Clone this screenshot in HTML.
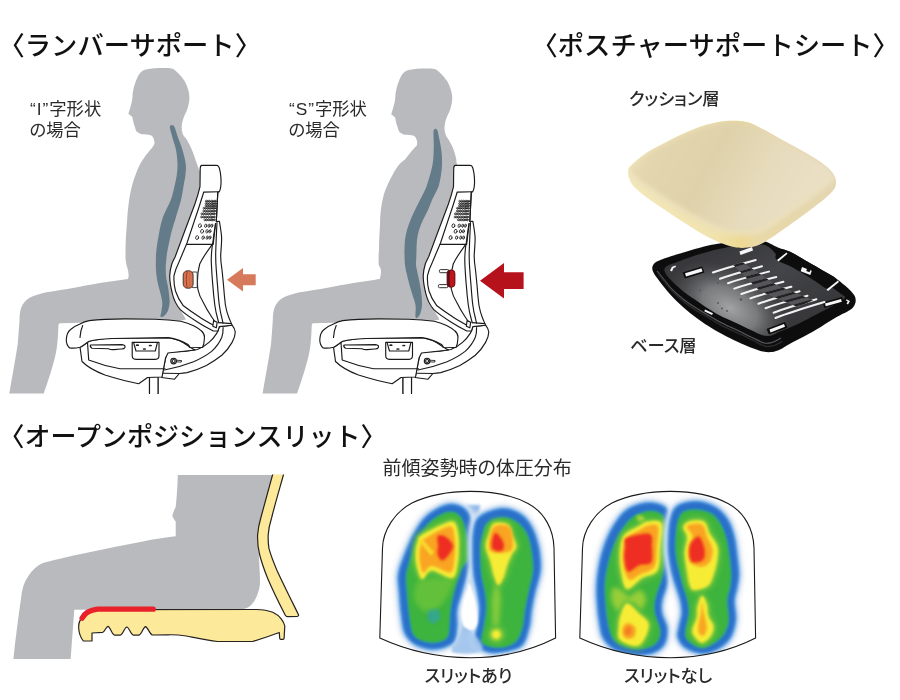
<!DOCTYPE html>
<html lang="ja">
<head>
<meta charset="utf-8">
<title>ランバーサポート</title>
<style>
html,body{margin:0;padding:0;background:#fff;}
body{width:900px;height:700px;overflow:hidden;position:relative;font-family:"Liberation Sans","Noto Sans CJK JP",sans-serif;color:#231f20;}
svg{position:absolute;left:0;top:0;display:block;}
.t{position:absolute;white-space:nowrap;line-height:1;filter:grayscale(1);}
.h{font-size:26.3px;color:#111;font-weight:500;}
.s{font-size:17.3px;color:#2a2a2a;font-weight:500;font-feature-settings:"palt" 1;}
</style>
</head>
<body>
<svg width="900" height="700" viewBox="0 0 900 700">


<!-- ===== FIGURE 1 ===== -->
<g id="fig1">
<path fill="#b9babe" d="M158.6,68.0 C156.4,68.3 148.9,68.6 145.7,69.6 C142.5,70.6 141.1,71.8 139.3,74.1 C137.6,76.3 136.3,80.1 135.2,83.1 C134.1,86.1 133.4,89.3 132.9,92.1 C132.4,94.9 132.6,97.2 132.2,99.8 C131.8,102.4 130.9,105.3 130.3,107.6 C129.7,109.9 128.7,112.8 128.4,113.8 L132.2,116.8 C132.4,117.6 132.9,120.0 133.3,121.7 C133.7,123.4 134.2,125.2 134.8,126.8 C135.4,128.4 135.5,130.3 136.7,131.6 C137.9,132.8 139.6,133.7 141.9,134.3 C144.2,134.9 148.8,134.3 150.8,135.2 C152.8,136.1 153.5,138.1 154.0,139.7 C154.5,141.3 154.8,142.9 154.0,144.8 C153.2,146.8 149.8,150.3 149.0,151.4 C146.5,154.5 144,157.5 142.3,160.6 C140,164.5 138,168 136.6,172 C134.8,176.5 133.2,181 132,185.7 C130.5,191.5 129.3,198 128.6,204 C127.8,210 127.3,216 127,222.3 C126.5,228 126,234.5 125.8,240.6 C125.5,247 125.4,253 125.6,258.9 C125.9,262.5 126.6,265.5 127.4,268 C128.3,271 128.8,274 128.6,277 L127.8,279 C119,280.3 109,281.6 100,283 C91,284.5 83,286.2 74.3,287.7 C65,289.3 56,290.6 46.5,292.3 C42,293.3 37.5,294.6 33.5,296 C29.5,297.5 26.3,299.8 24.2,302.5 C21.8,305.5 20.5,309 20,312.8 C19.6,315.3 19.5,317.8 19.5,320.2 C19,328 18.4,336 17.7,344.3 C16.3,353.5 14.6,363 13,372.2 C11.7,379.5 10.4,386.5 9.3,393.6 L43.7,393.6 C46,387 48.2,380.5 50.2,374 C52.3,367.5 54.3,360.5 55.8,353.6 C57,347.5 57.7,341 58,335 L58.5,324.8 C58.7,324 59.2,323.5 60,323.3 L90,322.5 L176,321.5 L186,319.5 L181,311 L176.5,293 L174,276 L178,257 L187,233 L198,204 L203,187 L203,172.5 L201.0,172.5 C200.7,172.1 200.0,171.4 199.3,170.0 C198.6,168.6 198.2,167.3 197.0,164.0 C195.8,160.7 193.7,154.1 192.0,150.0 C190.3,145.9 188.3,142.3 186.8,139.7 C185.3,137.1 183.8,136.7 183.0,134.5 C182.2,132.3 181.6,129.6 181.7,126.8 C181.8,124.0 182.6,120.8 183.6,117.8 C184.6,114.8 186.5,112.0 187.5,108.8 C188.5,105.6 189.3,101.8 189.4,98.6 C189.5,95.4 188.9,92.6 188.1,89.6 C187.2,86.6 186.1,83.5 184.3,80.6 C182.5,77.7 179.3,74.2 177.2,72.2 C175.0,70.2 174.5,69.1 171.4,68.4 C168.3,67.7 160.7,68.1 158.6,68.0 Z"/>
<path fill="#647b89" d="M172.0,125.2 C172.8,125.2 173.4,124.8 174.4,126.8 C175.4,128.8 176.5,133.1 177.8,137.0 C179.2,140.9 181.2,145.5 182.5,150.0 C183.8,154.5 185.2,159.8 185.7,164.0 C186.2,168.2 185.8,171.4 185.4,175.0 C185.1,178.6 184.3,181.5 183.6,185.7 C182.9,189.9 182.3,194.8 181.0,200.0 C179.7,205.2 177.2,212.8 176.0,217.0 C174.8,221.2 174.3,222.2 173.5,225.0 C172.7,227.8 172.0,229.7 171.0,234.0 C170.0,238.3 168.2,246.7 167.4,251.0 C166.6,255.3 166.6,257.1 166.3,260.0 C166.0,262.9 165.7,265.8 165.7,268.6 C165.7,271.4 165.8,274.1 166.1,277.0 C166.4,279.9 167.3,282.9 167.8,285.7 C168.3,288.5 168.7,291.1 169.0,294.0 C169.3,296.9 169.8,300.1 169.6,303.0 C169.4,305.9 168.6,309.2 167.6,311.4 C166.6,313.6 164.7,315.3 163.5,316.2 C162.3,317.1 160.8,317.4 160.4,316.6 C160.1,315.8 161.1,313.7 161.4,311.4 C161.7,309.1 162.4,305.9 162.3,303.0 C162.2,300.1 161.2,296.9 160.6,294.0 C159.9,291.1 159.1,288.5 158.4,285.7 C157.8,282.9 157.1,279.9 156.7,277.0 C156.3,274.1 156.0,271.4 155.9,268.6 C155.8,265.8 155.8,262.9 155.9,260.0 C156.0,257.1 155.8,255.3 156.3,251.0 C156.8,246.7 157.8,239.7 158.9,234.0 C160.0,228.3 161.0,222.7 163.0,217.0 C165.0,211.3 168.9,205.2 170.8,200.0 C172.7,194.8 173.6,189.9 174.6,185.7 C175.6,181.5 176.3,178.6 176.8,175.0 C177.3,171.4 177.6,168.2 177.5,164.0 C177.4,159.8 176.9,154.5 176.0,150.0 C175.1,145.5 173.3,140.8 172.3,137.0 C171.3,133.2 169.9,129.0 169.8,127.0 C169.8,125.0 171.2,125.2 172.0,125.2 Z"/>
<g fill="#fff" stroke="#1a1a1a" stroke-width="1.15" stroke-linejoin="round" stroke-linecap="round">
<!-- gas column -->
<path d="M149.5,377 L149.5,393.5 M158,377 L158,393.5" fill="none"/>
<rect x="149.5" y="377" width="8.5" height="16.5" stroke="none"/>
<path d="M149.5,377 L149.5,393.5 M158,377 L158,393.5" fill="none"/>
<!-- lower support arm -->
<path d="M219.3,326.6 C218.5,330 217.8,331.8 216.7,333.4 C214.5,337 212,340 209,342.4 C205.5,345.5 201.5,348 197.4,349.5 C188,351.5 178,352 168.5,352 L166.5,354 L162.7,372.6 L161.6,377.5 L174.5,379.2 L179.4,373.5 C182,373.3 184.5,373 187.1,372.6 C194,371 200.5,368.5 206.4,365.6 C212,362.5 217,359 221.8,355.3 C226,351.5 229.5,347 232.1,342.4 C234,339 235.2,335.5 235.3,332.1 C235,329.5 233.8,327.3 232.1,325.2 Z"/>
<path d="M223.1,327.6 C223.2,331 222.8,334.5 221.8,337.3 C219.5,342.8 216,347.5 211.6,351.4 C206,355.8 200,359 193.6,361.7 C185,365 176.5,367.8 164.5,370" fill="none"/>
<path d="M163.3,373.2 L179.4,373.5" fill="none"/>
<!-- lower shell -->
<path d="M80,347.2 L82,361.5 C89,368.5 97,372 105,375 C116,378.5 127,381.5 138.7,383.7 L147.5,377.5 L162,377 L165.5,358 L168,353 L195,350 L190,347.3 C189.5,347.5 189,346.5 188,345.7 C182,341 175,338.6 168.6,337.6 L112.5,338.5 C104,338.8 95,339.6 89.2,341.2 C86,343 83,346 80,347.2 Z"/>
<path d="M87.5,342.5 L88.7,360 C99,364 110,367 120,368.7 L165,368.7" fill="none"/>
<!-- lever -->
<path d="M90.5,345 L122,344.6 Q125.6,345.2 125,347.2 Q124.3,349.2 121,349 L114,349.6 Q111,350 108.5,348.8 L92,348.2 Q89.5,346.5 90.5,345 Z"/>
<!-- switch box -->
<path d="M132.2,342.3 L159,342.3 L159,355.5 Q159,359.3 155.5,359.3 L135.8,359.3 Q132.2,359.3 132.2,355.5 Z"/>
<path d="M133.6,342.6 L136,351 L155.3,351 L157.4,342.6" fill="none"/>
<g fill="#1a1a1a" stroke="none"><ellipse cx="137.4" cy="345.2" rx="1.7" ry="0.85"/><ellipse cx="150.3" cy="345.5" rx="1.7" ry="0.85"/><ellipse cx="144.4" cy="349" rx="1.7" ry="0.85"/></g>
<!-- pivot -->
<path d="M176,361 L180.8,361.3" fill="none" stroke-width="2.4"/>
<path d="M176,361 L180.5,361.3" fill="none" stroke="#fff" stroke-width="0.8"/>
<circle cx="173.6" cy="361" r="2.8"/>
<circle cx="173.6" cy="361" r="1.5"/>
<!-- seat cushion -->
<path d="M66.3,339.5 C66.5,335 68,331.5 70.6,329.5 C73.5,327 76.5,325.3 80,324 C83,322.3 86,321.2 89.2,320.6 C100,319.3 112,318.9 125,318.9 L155,319.3 C164,319.6 172.5,320.2 180.7,321.2 C185.5,322.3 189.8,323.8 193.6,325.7 C196.5,327.2 199.2,328.8 201.3,330.8 C203.5,332.8 204.5,335 204.5,337.3 L203.8,343.7 L202.5,347.5 L190,347.3 C189.5,346.3 189,345.3 188,344.5 C182,341 175,338.6 168.6,337.6 L112.5,338.5 C104,338.8 95,339.6 89.2,341.2 C86,343 83,346 80,347.2 C76,348.3 72.5,348.3 69.7,348 C67.5,346 66.2,343 66.3,339.5 Z"/>
<path d="M82.7,325.6 C81,329.5 80.2,333.5 80,337.5" fill="none"/>
<!-- backrest outer shell + frame -->
<path d="M201.8,165.4 L216.3,165.3 Q218.8,165.5 219.5,168.7 C220.3,172 220.7,174.5 220.8,176.4 C221.1,180 221.1,183 220.9,185 C220.7,188 220.2,190.5 219,191.8 L217.8,192.3 L216.3,221.5 L219.4,221.3 C220.3,227 221.3,232 221.6,237.4 C221.8,243 221,249 220.7,255 C220.6,260 221.2,265 222,270 C222.6,275 223,280 223.5,285 C224,292 224.6,298.5 225.4,305 C226.3,310 227.5,314.5 229,318 C230,320.5 231,322.5 232.1,325.2 L219.3,326.6 L218,331 L213.3,331 C207,328 202,325 197.8,322.3 C191,318 185,314 180.3,309.7 C176,304.5 173.5,299 172.2,293 C170.7,287 169.7,281 169.7,275.7 C169.8,272 170.6,268 171.8,264 C172.8,261 174,259 175.2,256.7 L184,233 L194.9,204 C197,198 198.8,192 200,186.7 L200.2,168.7 Q200.3,165.6 201.8,165.4 Z"/>
<!-- top pad divider -->
<path d="M203.6,192.1 L219,191.8" fill="none"/>
<!-- inner front line -->
<path d="M203.6,192.5 C201,201 197.5,212 194,222 L187,243 L179,262 C177,266 175,271 174,275.7 C173.6,281 174.2,286 175.5,291 C177.2,296.5 180,301.5 183.4,305.8 C189.5,310.5 195.5,314.5 201.7,318.4 C206,321 210.5,323.7 215.3,326" fill="none"/>
<!-- perforated panel -->
<path d="M217.8,192.3 L216.3,221.5 M215.6,223.5 L213.2,244.3 L186.6,244.3" fill="none"/>
<!-- perforations -->
<g fill="#fff" stroke="#1a1a1a" stroke-width="0.7">
<ellipse cx="215.5" cy="201.2" rx="0.62" ry="1.0" transform="rotate(14 215.5 201.2)"/>
<ellipse cx="214.2" cy="201.2" rx="0.62" ry="1.0" transform="rotate(14 214.2 201.2)"/>
<ellipse cx="212.8" cy="201.2" rx="0.62" ry="1.0" transform="rotate(14 212.8 201.2)"/>
<ellipse cx="211.5" cy="201.2" rx="0.80" ry="1.0" transform="rotate(14 211.5 201.2)"/>
<ellipse cx="209.7" cy="201.2" rx="0.80" ry="1.0" transform="rotate(14 209.7 201.2)"/>
<ellipse cx="208.0" cy="201.2" rx="0.80" ry="1.0" transform="rotate(14 208.0 201.2)"/>
<ellipse cx="206.2" cy="201.2" rx="0.80" ry="1.0" transform="rotate(14 206.2 201.2)"/>
<ellipse cx="215.3" cy="203.6" rx="0.62" ry="1.0" transform="rotate(14 215.3 203.6)"/>
<ellipse cx="214.0" cy="203.6" rx="0.62" ry="1.0" transform="rotate(14 214.0 203.6)"/>
<ellipse cx="212.6" cy="203.6" rx="0.62" ry="1.0" transform="rotate(14 212.6 203.6)"/>
<ellipse cx="211.3" cy="203.6" rx="0.80" ry="1.0" transform="rotate(14 211.3 203.6)"/>
<ellipse cx="209.5" cy="203.6" rx="0.80" ry="1.0" transform="rotate(14 209.5 203.6)"/>
<ellipse cx="207.8" cy="203.6" rx="0.80" ry="1.0" transform="rotate(14 207.8 203.6)"/>
<ellipse cx="206.0" cy="203.6" rx="0.80" ry="1.0" transform="rotate(14 206.0 203.6)"/>
<ellipse cx="215.2" cy="205.9" rx="0.62" ry="1.0" transform="rotate(14 215.2 205.9)"/>
<ellipse cx="213.8" cy="205.9" rx="0.62" ry="1.0" transform="rotate(14 213.8 205.9)"/>
<ellipse cx="212.5" cy="205.9" rx="0.62" ry="1.0" transform="rotate(14 212.5 205.9)"/>
<ellipse cx="211.1" cy="205.9" rx="0.80" ry="1.0" transform="rotate(14 211.1 205.9)"/>
<ellipse cx="209.4" cy="205.9" rx="0.80" ry="1.0" transform="rotate(14 209.4 205.9)"/>
<ellipse cx="207.6" cy="205.9" rx="0.80" ry="1.0" transform="rotate(14 207.6 205.9)"/>
<ellipse cx="205.9" cy="205.9" rx="0.80" ry="1.0" transform="rotate(14 205.9 205.9)"/>
<ellipse cx="215.0" cy="208.2" rx="0.62" ry="1.0" transform="rotate(14 215.0 208.2)"/>
<ellipse cx="213.6" cy="208.2" rx="0.62" ry="1.0" transform="rotate(14 213.6 208.2)"/>
<ellipse cx="212.3" cy="208.2" rx="0.62" ry="1.0" transform="rotate(14 212.3 208.2)"/>
<ellipse cx="210.9" cy="208.2" rx="0.80" ry="1.0" transform="rotate(14 210.9 208.2)"/>
<ellipse cx="209.2" cy="208.2" rx="0.80" ry="1.0" transform="rotate(14 209.2 208.2)"/>
<ellipse cx="207.4" cy="208.2" rx="0.80" ry="1.0" transform="rotate(14 207.4 208.2)"/>
<ellipse cx="205.7" cy="208.2" rx="0.80" ry="1.0" transform="rotate(14 205.7 208.2)"/>
<ellipse cx="203.9" cy="208.2" rx="0.80" ry="1.0" transform="rotate(14 203.9 208.2)"/>
<ellipse cx="214.8" cy="211.0" rx="0.62" ry="1.0" transform="rotate(14 214.8 211.0)"/>
<ellipse cx="213.4" cy="211.0" rx="0.62" ry="1.0" transform="rotate(14 213.4 211.0)"/>
<ellipse cx="212.1" cy="211.0" rx="0.62" ry="1.0" transform="rotate(14 212.1 211.0)"/>
<ellipse cx="210.7" cy="211.0" rx="0.80" ry="1.0" transform="rotate(14 210.7 211.0)"/>
<ellipse cx="209.0" cy="211.0" rx="0.80" ry="1.0" transform="rotate(14 209.0 211.0)"/>
<ellipse cx="207.2" cy="211.0" rx="0.80" ry="1.0" transform="rotate(14 207.2 211.0)"/>
<ellipse cx="205.5" cy="211.0" rx="0.80" ry="1.0" transform="rotate(14 205.5 211.0)"/>
<ellipse cx="203.7" cy="211.0" rx="0.80" ry="1.0" transform="rotate(14 203.7 211.0)"/>
<ellipse cx="214.6" cy="213.8" rx="0.62" ry="1.0" transform="rotate(14 214.6 213.8)"/>
<ellipse cx="213.2" cy="213.8" rx="0.62" ry="1.0" transform="rotate(14 213.2 213.8)"/>
<ellipse cx="211.9" cy="213.8" rx="0.62" ry="1.0" transform="rotate(14 211.9 213.8)"/>
<ellipse cx="210.5" cy="213.8" rx="0.80" ry="1.0" transform="rotate(14 210.5 213.8)"/>
<ellipse cx="208.8" cy="213.8" rx="0.80" ry="1.0" transform="rotate(14 208.8 213.8)"/>
<ellipse cx="207.0" cy="213.8" rx="0.80" ry="1.0" transform="rotate(14 207.0 213.8)"/>
<ellipse cx="205.3" cy="213.8" rx="0.80" ry="1.0" transform="rotate(14 205.3 213.8)"/>
<ellipse cx="203.5" cy="213.8" rx="0.80" ry="1.0" transform="rotate(14 203.5 213.8)"/>
<ellipse cx="201.8" cy="213.8" rx="0.80" ry="1.0" transform="rotate(14 201.8 213.8)"/>
<ellipse cx="214.3" cy="217.0" rx="0.62" ry="1.0" transform="rotate(14 214.3 217.0)"/>
<ellipse cx="213.0" cy="217.0" rx="0.62" ry="1.0" transform="rotate(14 213.0 217.0)"/>
<ellipse cx="211.6" cy="217.0" rx="0.62" ry="1.0" transform="rotate(14 211.6 217.0)"/>
<ellipse cx="210.3" cy="217.0" rx="0.80" ry="1.0" transform="rotate(14 210.3 217.0)"/>
<ellipse cx="208.5" cy="217.0" rx="0.80" ry="1.0" transform="rotate(14 208.5 217.0)"/>
<ellipse cx="206.8" cy="217.0" rx="0.80" ry="1.0" transform="rotate(14 206.8 217.0)"/>
<ellipse cx="205.0" cy="217.0" rx="0.80" ry="1.0" transform="rotate(14 205.0 217.0)"/>
<ellipse cx="203.3" cy="217.0" rx="0.80" ry="1.0" transform="rotate(14 203.3 217.0)"/>
<ellipse cx="201.5" cy="217.0" rx="0.80" ry="1.0" transform="rotate(14 201.5 217.0)"/>
<ellipse cx="214.1" cy="219.8" rx="0.62" ry="1.0" transform="rotate(14 214.1 219.8)"/>
<ellipse cx="212.7" cy="219.8" rx="0.62" ry="1.0" transform="rotate(14 212.7 219.8)"/>
<ellipse cx="211.4" cy="219.8" rx="0.62" ry="1.0" transform="rotate(14 211.4 219.8)"/>
<ellipse cx="210.0" cy="219.8" rx="0.80" ry="1.0" transform="rotate(14 210.0 219.8)"/>
<ellipse cx="208.3" cy="219.8" rx="0.80" ry="1.0" transform="rotate(14 208.3 219.8)"/>
<ellipse cx="206.5" cy="219.8" rx="0.80" ry="1.0" transform="rotate(14 206.5 219.8)"/>
<ellipse cx="204.8" cy="219.8" rx="0.80" ry="1.0" transform="rotate(14 204.8 219.8)"/>
</g>
<g fill="#fff" stroke="#1a1a1a" stroke-width="0.8">
<ellipse cx="199.9" cy="225.7" rx="1.45" ry="1.90" transform="rotate(16 199.9 225.7)"/>
<ellipse cx="205.7" cy="225.7" rx="1.10" ry="1.75" transform="rotate(16 205.7 225.7)"/>
<ellipse cx="209.1" cy="225.7" rx="0.85" ry="1.75" transform="rotate(16 209.1 225.7)"/>
<ellipse cx="211.9" cy="225.7" rx="0.85" ry="1.75" transform="rotate(16 211.9 225.7)"/>
<ellipse cx="202.1" cy="231.3" rx="1.45" ry="1.90" transform="rotate(16 202.1 231.3)"/>
<ellipse cx="207.0" cy="231.3" rx="1.10" ry="1.75" transform="rotate(16 207.0 231.3)"/>
<ellipse cx="210.0" cy="231.3" rx="0.85" ry="1.75" transform="rotate(16 210.0 231.3)"/>
<ellipse cx="197.1" cy="237.6" rx="1.45" ry="1.90" transform="rotate(16 197.1 237.6)"/>
<ellipse cx="203.1" cy="237.6" rx="1.10" ry="1.75" transform="rotate(16 203.1 237.6)"/>
<ellipse cx="207.2" cy="237.6" rx="0.85" ry="1.75" transform="rotate(16 207.2 237.6)"/>
<ellipse cx="210.0" cy="237.6" rx="0.85" ry="1.75" transform="rotate(16 210.0 237.6)"/>
</g>
<!-- lumbar inner curve -->
<path d="M212.3,244.3 C207,251.5 202.5,258 199.7,264 C197.5,272 197,281 197.8,289 C198.8,294 201,299 203.6,303 C206,308 208.7,312.5 211.4,316.5 L215.3,322.3" fill="none"/>
<!-- outer shell lines -->
<path d="M215.6,223.5 C214.5,230 213.5,236 213,241.7 C212.4,245 211.9,248 211.7,251 C211.4,254.5 211.2,258 211.3,261.4 C211.4,264.5 211.5,267 211.7,270 C212,275 212.3,280 212.8,285 C213.3,292 214,299 214.8,305 C215.5,310 216.5,314.5 217.5,318 L218.7,322.6" fill="none"/>
<path d="M217,222.5 C216.5,232 216,243 215.7,253 C215.6,259 215.9,265 216.3,270 C216.7,275 217,280 217.5,285 C218,292 218.5,299 219.3,305 C220,310.5 221,315 222,318.5 L223,323.2" fill="none"/>
<path d="M218.7,322.6 L231.3,323.6" fill="none"/>
<path d="M213.6,320.6 L217.2,322.2 L216.3,327.8 L212.8,326.3 Z"/>

</g>
<path fill="#d77a5b" d="M227,279.7 L243,268 L243,274.2 L255.7,274.2 L255.7,285.2 L243,285.2 L243,291.6 Z"/>
<g stroke="#1a1a1a" stroke-width="0.8">
<rect x="191.8" y="272" width="5.4" height="15.6" rx="1" fill="#fff"/>
<rect x="183.2" y="270.8" width="9.9" height="17.4" rx="4.2" fill="#d9714f" stroke="#3a2620" stroke-width="0.9"/>
</g>
<path d="M187.2,271.4 C186,276.5 186,282.5 187.2,287.6" fill="none" stroke="#7a3a26" stroke-width="0.8"/>
<path d="M189.9,271 C189.2,276.5 189.2,282.5 189.9,288" fill="none" stroke="#c25f3f" stroke-width="0.6"/>
</g>

<!-- ===== FIGURE 2 ===== -->
<g id="fig2">
<path fill="#b9babe" d="M421.4,68.5 C419.2,68.8 411.7,69.1 408.5,70.1 C405.3,71.1 403.9,72.3 402.1,74.6 C400.4,76.8 399.1,80.6 398.0,83.6 C396.9,86.6 396.2,89.8 395.7,92.6 C395.2,95.4 395.4,97.7 395.0,100.3 C394.6,102.9 393.7,105.8 393.1,108.1 C392.5,110.4 391.5,113.3 391.2,114.3 L395.0,117.3 C395.2,118.1 395.7,120.5 396.1,122.2 C396.5,123.9 397.0,125.7 397.6,127.3 C398.2,128.9 398.3,130.8 399.5,132.1 C400.7,133.3 402.4,134.2 404.7,134.8 C407.1,135.4 411.6,134.8 413.6,135.7 C415.6,136.6 416.3,138.6 416.8,140.2 C417.3,141.8 417.4,143.8 416.8,145.3 C416.2,146.9 415.0,147.1 413.0,149.5 C411.0,151.9 406.3,157.8 405.0,159.5 C399.5,163 395.5,169 392.5,175 C388.5,182 385.5,189 383.7,195 C381,205 380,215 380,225 C379.5,234 379,242 379,250 C378.5,255 378.5,260 378.7,265 C380,267 381,269 381,271 C381,274 380.3,276.5 380,278.7 C372.3,280.3 362.3,281.6 353.3,283 C344.3,284.5 336.3,286.2 327.6,287.7 C318.3,289.3 309.3,290.6 299.8,292.3 C295.3,293.3 290.8,294.6 286.8,296 C282.8,297.5 279.6,299.8 277.5,302.5 C275.1,305.5 273.8,309 273.3,312.8 C272.9,315.3 272.8,317.8 272.8,320.2 C272.3,328 271.7,336 271,344.3 C269.6,353.5 267.9,363 266.3,372.2 C265,379.5 263.7,386.5 262.6,393.6 L297,393.6 C299.3,387 301.5,380.5 303.5,374 C305.6,367.5 307.6,360.5 309.1,353.6 C310.3,347.5 311,341 311.3,335 L311.8,324.8 C312,324 312.5,323.5 313.3,323.3 L343.3,322.5 L429.5,321.5 L439.5,319.5 L434.5,311 L430,293 L427.5,276 L431.5,257 L440.5,233 L451.5,204 L456.5,187 L456.5,166 L457.5,165.0 C457.4,164.7 456.9,164.2 456.6,163.0 C456.4,161.8 456.6,160.5 456.0,158.0 C455.4,155.5 454.2,151.1 453.0,148.0 C451.8,144.9 449.7,141.7 448.5,139.5 C447.3,137.3 446.5,137.0 445.8,135.0 C445.1,133.0 444.4,130.1 444.5,127.3 C444.6,124.5 445.4,121.3 446.4,118.3 C447.4,115.3 449.3,112.5 450.3,109.3 C451.3,106.1 452.1,102.3 452.2,99.1 C452.3,95.9 451.8,93.1 450.9,90.1 C450.0,87.1 448.9,84.0 447.1,81.1 C445.3,78.2 442.1,74.7 440.0,72.7 C437.9,70.7 437.3,69.6 434.2,68.9 C431.1,68.2 423.5,68.6 421.4,68.5 Z"/>
<path fill="#647b89" d="M435.4,128.7 C436.0,128.6 436.8,129.1 437.3,130.2 C437.8,131.2 438.0,132.5 438.5,135.0 C439.0,137.5 439.9,141.7 440.5,145.0 C441.1,148.3 441.6,151.7 441.8,155.0 C442.1,158.3 442.1,161.7 442.0,165.0 C441.9,168.3 441.5,171.7 441.0,175.0 C440.5,178.3 439.7,182.5 439.0,185.0 C438.3,187.5 438.2,187.5 437.0,190.0 C435.8,192.5 433.5,196.7 432.0,200.0 C430.5,203.3 429.5,206.7 428.0,210.0 C426.5,213.3 424.5,216.7 423.0,220.0 C421.5,223.3 420.0,226.7 419.0,230.0 C418.0,233.3 417.4,236.7 417.0,240.0 C416.6,243.3 416.6,246.7 416.5,250.0 C416.4,253.3 416.3,257.5 416.2,260.0 C416.1,262.5 415.7,262.5 416.0,265.0 C416.3,267.5 417.3,271.7 418.0,275.0 C418.7,278.3 419.4,281.7 420.0,285.0 C420.6,288.3 421.2,291.7 421.5,295.0 C421.8,298.3 422.2,302.0 422.0,305.0 C421.8,308.0 421.2,311.0 420.5,313.0 C419.8,315.0 418.8,316.4 418.0,317.2 C417.2,318.0 416.0,318.3 415.6,317.6 C415.2,316.9 415.5,315.1 415.5,313.0 C415.5,310.9 416.0,308.0 415.5,305.0 C415.0,302.0 413.5,298.3 412.5,295.0 C411.5,291.7 410.4,288.3 409.5,285.0 C408.6,281.7 407.8,278.3 407.0,275.0 C406.2,271.7 405.4,268.3 405.0,265.0 C404.6,261.7 404.6,257.5 404.5,255.0 C404.4,252.5 404.4,252.5 404.5,250.0 C404.6,247.5 404.6,243.3 405.0,240.0 C405.4,236.7 406.1,233.3 407.0,230.0 C407.9,226.7 409.2,223.3 410.5,220.0 C411.8,216.7 413.4,213.3 415.0,210.0 C416.6,206.7 418.3,203.3 420.0,200.0 C421.7,196.7 423.8,192.5 425.0,190.0 C426.2,187.5 426.2,187.5 427.0,185.0 C427.8,182.5 429.1,178.3 430.0,175.0 C430.9,171.7 431.9,168.3 432.5,165.0 C433.1,161.7 433.3,158.3 433.5,155.0 C433.7,151.7 433.8,148.3 433.8,145.0 C433.8,141.7 433.5,137.4 433.5,135.0 C433.5,132.6 433.3,131.6 433.6,130.5 C433.9,129.4 434.8,128.8 435.4,128.7 Z"/>
<g transform="translate(253.5,0)" fill="#fff" stroke="#1a1a1a" stroke-width="1.15" stroke-linejoin="round" stroke-linecap="round">
<!-- gas column -->
<path d="M149.5,377 L149.5,393.5 M158,377 L158,393.5" fill="none"/>
<rect x="149.5" y="377" width="8.5" height="16.5" stroke="none"/>
<path d="M149.5,377 L149.5,393.5 M158,377 L158,393.5" fill="none"/>
<!-- lower support arm -->
<path d="M219.3,326.6 C218.5,330 217.8,331.8 216.7,333.4 C214.5,337 212,340 209,342.4 C205.5,345.5 201.5,348 197.4,349.5 C188,351.5 178,352 168.5,352 L166.5,354 L162.7,372.6 L161.6,377.5 L174.5,379.2 L179.4,373.5 C182,373.3 184.5,373 187.1,372.6 C194,371 200.5,368.5 206.4,365.6 C212,362.5 217,359 221.8,355.3 C226,351.5 229.5,347 232.1,342.4 C234,339 235.2,335.5 235.3,332.1 C235,329.5 233.8,327.3 232.1,325.2 Z"/>
<path d="M223.1,327.6 C223.2,331 222.8,334.5 221.8,337.3 C219.5,342.8 216,347.5 211.6,351.4 C206,355.8 200,359 193.6,361.7 C185,365 176.5,367.8 164.5,370" fill="none"/>
<path d="M163.3,373.2 L179.4,373.5" fill="none"/>
<!-- lower shell -->
<path d="M80,347.2 L82,361.5 C89,368.5 97,372 105,375 C116,378.5 127,381.5 138.7,383.7 L147.5,377.5 L162,377 L165.5,358 L168,353 L195,350 L190,347.3 C189.5,347.5 189,346.5 188,345.7 C182,341 175,338.6 168.6,337.6 L112.5,338.5 C104,338.8 95,339.6 89.2,341.2 C86,343 83,346 80,347.2 Z"/>
<path d="M87.5,342.5 L88.7,360 C99,364 110,367 120,368.7 L165,368.7" fill="none"/>
<!-- lever -->
<path d="M90.5,345 L122,344.6 Q125.6,345.2 125,347.2 Q124.3,349.2 121,349 L114,349.6 Q111,350 108.5,348.8 L92,348.2 Q89.5,346.5 90.5,345 Z"/>
<!-- switch box -->
<path d="M132.2,342.3 L159,342.3 L159,355.5 Q159,359.3 155.5,359.3 L135.8,359.3 Q132.2,359.3 132.2,355.5 Z"/>
<path d="M133.6,342.6 L136,351 L155.3,351 L157.4,342.6" fill="none"/>
<g fill="#1a1a1a" stroke="none"><ellipse cx="137.4" cy="345.2" rx="1.7" ry="0.85"/><ellipse cx="150.3" cy="345.5" rx="1.7" ry="0.85"/><ellipse cx="144.4" cy="349" rx="1.7" ry="0.85"/></g>
<!-- pivot -->
<path d="M176,361 L180.8,361.3" fill="none" stroke-width="2.4"/>
<path d="M176,361 L180.5,361.3" fill="none" stroke="#fff" stroke-width="0.8"/>
<circle cx="173.6" cy="361" r="2.8"/>
<circle cx="173.6" cy="361" r="1.5"/>
<!-- seat cushion -->
<path d="M66.3,339.5 C66.5,335 68,331.5 70.6,329.5 C73.5,327 76.5,325.3 80,324 C83,322.3 86,321.2 89.2,320.6 C100,319.3 112,318.9 125,318.9 L155,319.3 C164,319.6 172.5,320.2 180.7,321.2 C185.5,322.3 189.8,323.8 193.6,325.7 C196.5,327.2 199.2,328.8 201.3,330.8 C203.5,332.8 204.5,335 204.5,337.3 L203.8,343.7 L202.5,347.5 L190,347.3 C189.5,346.3 189,345.3 188,344.5 C182,341 175,338.6 168.6,337.6 L112.5,338.5 C104,338.8 95,339.6 89.2,341.2 C86,343 83,346 80,347.2 C76,348.3 72.5,348.3 69.7,348 C67.5,346 66.2,343 66.3,339.5 Z"/>
<path d="M82.7,325.6 C81,329.5 80.2,333.5 80,337.5" fill="none"/>
<!-- backrest outer shell + frame -->
<path d="M201.8,165.4 L216.3,165.3 Q218.8,165.5 219.5,168.7 C220.3,172 220.7,174.5 220.8,176.4 C221.1,180 221.1,183 220.9,185 C220.7,188 220.2,190.5 219,191.8 L217.8,192.3 L216.3,221.5 L219.4,221.3 C220.3,227 221.3,232 221.6,237.4 C221.8,243 221,249 220.7,255 C220.6,260 221.2,265 222,270 C222.6,275 223,280 223.5,285 C224,292 224.6,298.5 225.4,305 C226.3,310 227.5,314.5 229,318 C230,320.5 231,322.5 232.1,325.2 L219.3,326.6 L218,331 L213.3,331 C207,328 202,325 197.8,322.3 C191,318 185,314 180.3,309.7 C176,304.5 173.5,299 172.2,293 C170.7,287 169.7,281 169.7,275.7 C169.8,272 170.6,268 171.8,264 C172.8,261 174,259 175.2,256.7 L184,233 L194.9,204 C197,198 198.8,192 200,186.7 L200.2,168.7 Q200.3,165.6 201.8,165.4 Z"/>
<!-- top pad divider -->
<path d="M203.6,192.1 L219,191.8" fill="none"/>
<!-- inner front line -->
<path d="M203.6,192.5 C201,201 197.5,212 194,222 L187,243 L179,262 C177,266 175,271 174,275.7 C173.6,281 174.2,286 175.5,291 C177.2,296.5 180,301.5 183.4,305.8 C189.5,310.5 195.5,314.5 201.7,318.4 C206,321 210.5,323.7 215.3,326" fill="none"/>
<!-- perforated panel -->
<path d="M217.8,192.3 L216.3,221.5 M215.6,223.5 L213.2,244.3 L186.6,244.3" fill="none"/>
<!-- perforations -->
<g fill="#fff" stroke="#1a1a1a" stroke-width="0.7">
<ellipse cx="215.5" cy="201.2" rx="0.62" ry="1.0" transform="rotate(14 215.5 201.2)"/>
<ellipse cx="214.2" cy="201.2" rx="0.62" ry="1.0" transform="rotate(14 214.2 201.2)"/>
<ellipse cx="212.8" cy="201.2" rx="0.62" ry="1.0" transform="rotate(14 212.8 201.2)"/>
<ellipse cx="211.5" cy="201.2" rx="0.80" ry="1.0" transform="rotate(14 211.5 201.2)"/>
<ellipse cx="209.7" cy="201.2" rx="0.80" ry="1.0" transform="rotate(14 209.7 201.2)"/>
<ellipse cx="208.0" cy="201.2" rx="0.80" ry="1.0" transform="rotate(14 208.0 201.2)"/>
<ellipse cx="206.2" cy="201.2" rx="0.80" ry="1.0" transform="rotate(14 206.2 201.2)"/>
<ellipse cx="215.3" cy="203.6" rx="0.62" ry="1.0" transform="rotate(14 215.3 203.6)"/>
<ellipse cx="214.0" cy="203.6" rx="0.62" ry="1.0" transform="rotate(14 214.0 203.6)"/>
<ellipse cx="212.6" cy="203.6" rx="0.62" ry="1.0" transform="rotate(14 212.6 203.6)"/>
<ellipse cx="211.3" cy="203.6" rx="0.80" ry="1.0" transform="rotate(14 211.3 203.6)"/>
<ellipse cx="209.5" cy="203.6" rx="0.80" ry="1.0" transform="rotate(14 209.5 203.6)"/>
<ellipse cx="207.8" cy="203.6" rx="0.80" ry="1.0" transform="rotate(14 207.8 203.6)"/>
<ellipse cx="206.0" cy="203.6" rx="0.80" ry="1.0" transform="rotate(14 206.0 203.6)"/>
<ellipse cx="215.2" cy="205.9" rx="0.62" ry="1.0" transform="rotate(14 215.2 205.9)"/>
<ellipse cx="213.8" cy="205.9" rx="0.62" ry="1.0" transform="rotate(14 213.8 205.9)"/>
<ellipse cx="212.5" cy="205.9" rx="0.62" ry="1.0" transform="rotate(14 212.5 205.9)"/>
<ellipse cx="211.1" cy="205.9" rx="0.80" ry="1.0" transform="rotate(14 211.1 205.9)"/>
<ellipse cx="209.4" cy="205.9" rx="0.80" ry="1.0" transform="rotate(14 209.4 205.9)"/>
<ellipse cx="207.6" cy="205.9" rx="0.80" ry="1.0" transform="rotate(14 207.6 205.9)"/>
<ellipse cx="205.9" cy="205.9" rx="0.80" ry="1.0" transform="rotate(14 205.9 205.9)"/>
<ellipse cx="215.0" cy="208.2" rx="0.62" ry="1.0" transform="rotate(14 215.0 208.2)"/>
<ellipse cx="213.6" cy="208.2" rx="0.62" ry="1.0" transform="rotate(14 213.6 208.2)"/>
<ellipse cx="212.3" cy="208.2" rx="0.62" ry="1.0" transform="rotate(14 212.3 208.2)"/>
<ellipse cx="210.9" cy="208.2" rx="0.80" ry="1.0" transform="rotate(14 210.9 208.2)"/>
<ellipse cx="209.2" cy="208.2" rx="0.80" ry="1.0" transform="rotate(14 209.2 208.2)"/>
<ellipse cx="207.4" cy="208.2" rx="0.80" ry="1.0" transform="rotate(14 207.4 208.2)"/>
<ellipse cx="205.7" cy="208.2" rx="0.80" ry="1.0" transform="rotate(14 205.7 208.2)"/>
<ellipse cx="203.9" cy="208.2" rx="0.80" ry="1.0" transform="rotate(14 203.9 208.2)"/>
<ellipse cx="214.8" cy="211.0" rx="0.62" ry="1.0" transform="rotate(14 214.8 211.0)"/>
<ellipse cx="213.4" cy="211.0" rx="0.62" ry="1.0" transform="rotate(14 213.4 211.0)"/>
<ellipse cx="212.1" cy="211.0" rx="0.62" ry="1.0" transform="rotate(14 212.1 211.0)"/>
<ellipse cx="210.7" cy="211.0" rx="0.80" ry="1.0" transform="rotate(14 210.7 211.0)"/>
<ellipse cx="209.0" cy="211.0" rx="0.80" ry="1.0" transform="rotate(14 209.0 211.0)"/>
<ellipse cx="207.2" cy="211.0" rx="0.80" ry="1.0" transform="rotate(14 207.2 211.0)"/>
<ellipse cx="205.5" cy="211.0" rx="0.80" ry="1.0" transform="rotate(14 205.5 211.0)"/>
<ellipse cx="203.7" cy="211.0" rx="0.80" ry="1.0" transform="rotate(14 203.7 211.0)"/>
<ellipse cx="214.6" cy="213.8" rx="0.62" ry="1.0" transform="rotate(14 214.6 213.8)"/>
<ellipse cx="213.2" cy="213.8" rx="0.62" ry="1.0" transform="rotate(14 213.2 213.8)"/>
<ellipse cx="211.9" cy="213.8" rx="0.62" ry="1.0" transform="rotate(14 211.9 213.8)"/>
<ellipse cx="210.5" cy="213.8" rx="0.80" ry="1.0" transform="rotate(14 210.5 213.8)"/>
<ellipse cx="208.8" cy="213.8" rx="0.80" ry="1.0" transform="rotate(14 208.8 213.8)"/>
<ellipse cx="207.0" cy="213.8" rx="0.80" ry="1.0" transform="rotate(14 207.0 213.8)"/>
<ellipse cx="205.3" cy="213.8" rx="0.80" ry="1.0" transform="rotate(14 205.3 213.8)"/>
<ellipse cx="203.5" cy="213.8" rx="0.80" ry="1.0" transform="rotate(14 203.5 213.8)"/>
<ellipse cx="201.8" cy="213.8" rx="0.80" ry="1.0" transform="rotate(14 201.8 213.8)"/>
<ellipse cx="214.3" cy="217.0" rx="0.62" ry="1.0" transform="rotate(14 214.3 217.0)"/>
<ellipse cx="213.0" cy="217.0" rx="0.62" ry="1.0" transform="rotate(14 213.0 217.0)"/>
<ellipse cx="211.6" cy="217.0" rx="0.62" ry="1.0" transform="rotate(14 211.6 217.0)"/>
<ellipse cx="210.3" cy="217.0" rx="0.80" ry="1.0" transform="rotate(14 210.3 217.0)"/>
<ellipse cx="208.5" cy="217.0" rx="0.80" ry="1.0" transform="rotate(14 208.5 217.0)"/>
<ellipse cx="206.8" cy="217.0" rx="0.80" ry="1.0" transform="rotate(14 206.8 217.0)"/>
<ellipse cx="205.0" cy="217.0" rx="0.80" ry="1.0" transform="rotate(14 205.0 217.0)"/>
<ellipse cx="203.3" cy="217.0" rx="0.80" ry="1.0" transform="rotate(14 203.3 217.0)"/>
<ellipse cx="201.5" cy="217.0" rx="0.80" ry="1.0" transform="rotate(14 201.5 217.0)"/>
<ellipse cx="214.1" cy="219.8" rx="0.62" ry="1.0" transform="rotate(14 214.1 219.8)"/>
<ellipse cx="212.7" cy="219.8" rx="0.62" ry="1.0" transform="rotate(14 212.7 219.8)"/>
<ellipse cx="211.4" cy="219.8" rx="0.62" ry="1.0" transform="rotate(14 211.4 219.8)"/>
<ellipse cx="210.0" cy="219.8" rx="0.80" ry="1.0" transform="rotate(14 210.0 219.8)"/>
<ellipse cx="208.3" cy="219.8" rx="0.80" ry="1.0" transform="rotate(14 208.3 219.8)"/>
<ellipse cx="206.5" cy="219.8" rx="0.80" ry="1.0" transform="rotate(14 206.5 219.8)"/>
<ellipse cx="204.8" cy="219.8" rx="0.80" ry="1.0" transform="rotate(14 204.8 219.8)"/>
</g>
<g fill="#fff" stroke="#1a1a1a" stroke-width="0.8">
<ellipse cx="199.9" cy="225.7" rx="1.45" ry="1.90" transform="rotate(16 199.9 225.7)"/>
<ellipse cx="205.7" cy="225.7" rx="1.10" ry="1.75" transform="rotate(16 205.7 225.7)"/>
<ellipse cx="209.1" cy="225.7" rx="0.85" ry="1.75" transform="rotate(16 209.1 225.7)"/>
<ellipse cx="211.9" cy="225.7" rx="0.85" ry="1.75" transform="rotate(16 211.9 225.7)"/>
<ellipse cx="202.1" cy="231.3" rx="1.45" ry="1.90" transform="rotate(16 202.1 231.3)"/>
<ellipse cx="207.0" cy="231.3" rx="1.10" ry="1.75" transform="rotate(16 207.0 231.3)"/>
<ellipse cx="210.0" cy="231.3" rx="0.85" ry="1.75" transform="rotate(16 210.0 231.3)"/>
<ellipse cx="197.1" cy="237.6" rx="1.45" ry="1.90" transform="rotate(16 197.1 237.6)"/>
<ellipse cx="203.1" cy="237.6" rx="1.10" ry="1.75" transform="rotate(16 203.1 237.6)"/>
<ellipse cx="207.2" cy="237.6" rx="0.85" ry="1.75" transform="rotate(16 207.2 237.6)"/>
<ellipse cx="210.0" cy="237.6" rx="0.85" ry="1.75" transform="rotate(16 210.0 237.6)"/>
</g>
<!-- lumbar inner curve -->
<path d="M212.3,244.3 C207,251.5 202.5,258 199.7,264 C197.5,272 197,281 197.8,289 C198.8,294 201,299 203.6,303 C206,308 208.7,312.5 211.4,316.5 L215.3,322.3" fill="none"/>
<!-- outer shell lines -->
<path d="M215.6,223.5 C214.5,230 213.5,236 213,241.7 C212.4,245 211.9,248 211.7,251 C211.4,254.5 211.2,258 211.3,261.4 C211.4,264.5 211.5,267 211.7,270 C212,275 212.3,280 212.8,285 C213.3,292 214,299 214.8,305 C215.5,310 216.5,314.5 217.5,318 L218.7,322.6" fill="none"/>
<path d="M217,222.5 C216.5,232 216,243 215.7,253 C215.6,259 215.9,265 216.3,270 C216.7,275 217,280 217.5,285 C218,292 218.5,299 219.3,305 C220,310.5 221,315 222,318.5 L223,323.2" fill="none"/>
<path d="M218.7,322.6 L231.3,323.6" fill="none"/>
<path d="M213.6,320.6 L217.2,322.2 L216.3,327.8 L212.8,326.3 Z"/>

</g>
<path fill="#b5121b" d="M480,280.7 L504,263 L504,272.2 L523.6,272.2 L523.6,289 L504,289 L504,298.6 Z"/>
<g stroke="#1a1a1a" stroke-width="0.8" fill="#fff">
<rect x="439.4" y="269.6" width="9.5" height="3.1" rx="1.2" stroke-width="0.9"/><rect x="438.4" y="284.6" width="9.5" height="3.1" rx="1.2" stroke-width="0.9"/>
<rect x="447" y="270" width="8" height="17.2" rx="3.4" fill="#c0141c" stroke="#3a0a0c" stroke-width="0.7"/>
<path d="M450.4,270.3 C448,270.5 447.2,272.5 447.2,275 L447.2,282.5 C447.2,285 448,286.8 450.4,286.9 C449.4,281 449.4,276 450.4,270.3 Z" fill="#5e1114" stroke="none"/>
</g>


</g>

<!-- ===== CUSHION + BASE ===== -->
<g id="seatlayers">
<defs>
<linearGradient id="cTop" x1="0" y1="0.3" x2="1" y2="0.6"><stop offset="0" stop-color="#ebdfb6"/><stop offset="0.12" stop-color="#e3d6af"/><stop offset="0.4" stop-color="#dfd2ab"/><stop offset="0.7" stop-color="#e7dcbe"/><stop offset="1" stop-color="#ece1c7"/></linearGradient>
<linearGradient id="cSide" x1="0" y1="0" x2="1" y2="0"><stop offset="0" stop-color="#f3e8bc"/><stop offset="0.42" stop-color="#f1e3ae"/><stop offset="0.545" stop-color="#eed994"/><stop offset="0.63" stop-color="#e9d9a8"/><stop offset="1" stop-color="#e3d6b2"/></linearGradient>
<linearGradient id="bTop" x1="0" y1="0" x2="1" y2="1"><stop offset="0" stop-color="#303033"/><stop offset="0.45" stop-color="#444548"/><stop offset="1" stop-color="#2f2f32"/></linearGradient>
<filter id="b1" x="-10%" y="-10%" width="120%" height="120%"><feGaussianBlur stdDeviation="0.7"/></filter>
<filter id="b2" x="-10%" y="-10%" width="120%" height="120%"><feGaussianBlur stdDeviation="2.5"/></filter>
</defs>
<!-- base layer -->
<g filter="url(#b1)">
<path fill="#0f0f10" d="M652.5,266.5 C653.0,264.9 654.2,263.2 656.0,262.0 C657.8,260.8 660.4,260.0 663.0,259.0 C665.6,258.0 667.2,257.4 671.7,256.0 C676.2,254.6 683.5,252.3 690.0,250.5 C696.5,248.7 703.0,246.5 710.5,245.0 C718.0,243.5 727.2,242.2 735.0,241.5 C742.8,240.8 752.0,240.8 757.0,240.8 C762.0,240.8 762.7,241.0 765.0,241.5 C767.3,242.0 768.8,243.0 771.0,244.0 C773.2,245.0 774.9,246.2 778.0,247.5 C781.1,248.8 785.8,250.0 789.5,251.6 C793.2,253.2 796.2,255.2 800.0,257.3 C803.8,259.4 807.8,261.9 812.0,264.3 C816.2,266.7 821.0,269.5 825.0,271.8 C829.0,274.1 832.7,276.1 836.0,278.4 C839.3,280.7 842.4,283.3 845.0,285.5 C847.6,287.7 849.8,289.8 851.5,291.8 C853.2,293.8 854.7,295.5 855.3,297.5 C855.9,299.5 855.9,301.9 855.0,304.0 C854.1,306.1 853.3,307.7 850.0,310.0 C846.7,312.3 840.6,314.7 835.0,318.0 C829.4,321.3 821.7,326.4 816.4,329.6 C811.1,332.8 807.5,334.6 803.0,337.0 C798.5,339.4 793.4,341.9 789.6,344.0 C785.8,346.1 782.9,348.2 780.0,349.5 C777.1,350.8 774.9,351.7 772.0,352.0 C769.1,352.3 766.2,352.2 762.9,351.5 C759.6,350.8 756.1,349.6 752.0,348.0 C747.9,346.4 743.0,344.3 738.0,342.0 C733.0,339.7 727.5,337.0 722.0,334.0 C716.5,331.0 710.3,327.5 705.0,324.0 C699.7,320.5 694.7,316.8 690.0,313.0 C685.3,309.2 681.0,305.4 677.0,301.5 C673.0,297.6 669.2,293.3 666.0,289.5 C662.8,285.7 659.7,281.5 657.5,278.5 C655.3,275.5 653.8,273.5 653.0,271.5 C652.2,269.5 652.0,268.1 652.5,266.5 Z"/>
<path fill="url(#bTop)" d="M666.4,266.5 C668.9,264.7 674.6,263.0 680.0,261.0 C685.4,259.0 691.9,256.6 698.6,254.6 C705.3,252.6 712.3,250.5 720.0,248.8 C727.7,247.1 738.0,245.2 745.0,244.5 C752.0,243.8 757.8,243.9 762.0,244.5 C766.2,245.1 767.3,246.1 770.0,248.0 C772.7,249.9 774.7,253.6 778.0,256.0 C781.3,258.4 785.3,260.0 790.0,262.5 C794.7,265.0 801.0,268.1 806.0,271.0 C811.0,273.9 815.7,277.2 820.0,280.0 C824.3,282.8 828.5,285.2 832.0,287.5 C835.5,289.8 838.8,292.3 841.0,294.0 C843.2,295.7 845.5,296.0 845.0,297.5 C844.5,299.0 842.2,300.5 838.0,303.0 C833.8,305.5 826.9,308.9 820.0,312.5 C813.1,316.1 803.3,321.4 796.8,324.5 C790.3,327.6 785.3,329.2 781.0,331.0 C776.7,332.8 773.8,334.8 771.0,335.5 C768.2,336.2 766.7,336.1 764.0,335.5 C761.3,334.9 759.0,333.8 755.0,332.0 C751.0,330.2 744.4,326.9 740.0,324.8 C735.6,322.7 732.4,321.4 728.6,319.6 C724.8,317.8 720.9,316.0 717.1,313.9 C713.3,311.8 709.5,309.5 705.7,307.0 C701.9,304.5 698.1,301.7 694.3,299.0 C690.5,296.3 686.7,294.0 682.9,290.9 C679.1,287.8 674.4,283.8 671.4,280.6 C668.4,277.5 665.8,274.4 665.0,272.0 C664.2,269.6 663.9,268.3 666.4,266.5 Z"/>
<clipPath id="flc"><path d="M666.4,266.5 C668.9,264.7 674.6,263.0 680.0,261.0 C685.4,259.0 691.9,256.6 698.6,254.6 C705.3,252.6 712.3,250.5 720.0,248.8 C727.7,247.1 738.0,245.2 745.0,244.5 C752.0,243.8 757.8,243.9 762.0,244.5 C766.2,245.1 767.3,246.1 770.0,248.0 C772.7,249.9 774.7,253.6 778.0,256.0 C781.3,258.4 785.3,260.0 790.0,262.5 C794.7,265.0 801.0,268.1 806.0,271.0 C811.0,273.9 815.7,277.2 820.0,280.0 C824.3,282.8 828.5,285.2 832.0,287.5 C835.5,289.8 838.8,292.3 841.0,294.0 C843.2,295.7 845.5,296.0 845.0,297.5 C844.5,299.0 842.2,300.5 838.0,303.0 C833.8,305.5 826.9,308.9 820.0,312.5 C813.1,316.1 803.3,321.4 796.8,324.5 C790.3,327.6 785.3,329.2 781.0,331.0 C776.7,332.8 773.8,334.8 771.0,335.5 C768.2,336.2 766.7,336.1 764.0,335.5 C761.3,334.9 759.0,333.8 755.0,332.0 C751.0,330.2 744.4,326.9 740.0,324.8 C735.6,322.7 732.4,321.4 728.6,319.6 C724.8,317.8 720.9,316.0 717.1,313.9 C713.3,311.8 709.5,309.5 705.7,307.0 C701.9,304.5 698.1,301.7 694.3,299.0 C690.5,296.3 686.7,294.0 682.9,290.9 C679.1,287.8 674.4,283.8 671.4,280.6 C668.4,277.5 665.8,274.4 665.0,272.0 C664.2,269.6 663.9,268.3 666.4,266.5 Z"/></clipPath>
<radialGradient id="bGl" cx="730" cy="308" r="66" gradientUnits="userSpaceOnUse" gradientTransform="translate(730 308) rotate(30) scale(1 0.6) translate(-730 -308)"><stop offset="0" stop-color="#a2a3a5" stop-opacity="1"/><stop offset="0.45" stop-color="#808183" stop-opacity="0.9"/><stop offset="1" stop-color="#4a4b4d" stop-opacity="0"/></radialGradient>
<g clip-path="url(#flc)"><rect x="640" y="230" width="230" height="130" fill="url(#bGl)"/></g>
<path fill="none" stroke="#5c5d60" stroke-width="1.1" d="M657.0,271.0 C658.2,272.4 661.6,276.6 664.0,279.5 C666.4,282.4 668.2,285.4 671.4,288.6 C674.5,291.8 679.1,295.8 682.9,298.9 C686.7,301.9 690.5,304.4 694.3,306.9 C698.1,309.4 701.9,311.4 705.7,313.7 C709.5,316.0 713.3,318.5 717.1,320.6 C720.9,322.7 724.8,324.5 728.6,326.3 C732.4,328.1 736.1,329.6 740.0,331.5 C743.9,333.4 748.0,335.6 752.0,337.5 C756.0,339.4 760.7,342.2 764.0,343.0 C767.3,343.8 769.2,343.3 772.0,342.5 C774.8,341.7 779.5,338.8 781.0,338.0"/>
<path fill="none" stroke="#2c2c2e" stroke-width="1.4" d="M658.5,274.2 C659.7,275.6 663.1,279.8 665.5,282.7 C667.9,285.6 669.8,288.6 672.9,291.8 C676.0,295.0 680.6,299.0 684.4,302.1 C688.2,305.1 692.0,307.6 695.8,310.1 C699.6,312.6 703.4,314.6 707.2,316.9 C711.0,319.2 714.8,321.7 718.6,323.8 C722.4,325.9 726.3,327.7 730.1,329.5 C733.9,331.3 737.6,332.8 741.5,334.7 C745.4,336.6 749.5,338.8 753.5,340.7 C757.5,342.6 762.2,345.4 765.5,346.2 C768.8,347.0 770.7,346.5 773.5,345.7 C776.3,344.9 781.0,341.9 782.5,341.2"/>
<path fill="#0a0a0b" d="M780.0,249.0 C782.2,248.6 786.2,250.2 789.5,251.6 C792.8,253.0 796.2,255.2 800.0,257.3 C803.8,259.4 807.8,261.9 812.0,264.3 C816.2,266.7 821.0,269.5 825.0,271.8 C829.0,274.1 833.9,276.5 836.0,278.4 C838.1,280.3 838.0,281.5 837.5,283.0 C837.0,284.5 834.8,286.5 833.0,287.5 C831.2,288.5 830.0,289.9 827.0,288.8 C824.0,287.7 819.0,283.6 815.0,281.0 C811.0,278.4 807.2,276.0 803.0,273.5 C798.8,271.0 794.3,268.2 790.0,266.0 C785.7,263.8 779.3,262.0 777.0,260.0 C774.7,258.0 775.5,255.8 776.0,254.0 C776.5,252.2 777.8,249.4 780.0,249.0 Z"/>
<path d="M682.5,272.5 L702,266.5 L704.5,272.5 L685,278.5 Z M822.5,302.5 L842,297 L843.8,302.5 L824.5,308 Z M766.5,329 L785,322 L787.5,327.8 L769,334.5 Z" fill="#0a0a0b"/>
</g>
<!-- slits -->
<clipPath id="bandc"><path d="M733,264.8 L742,261.8 L776,284.8 L813,300.3 L798,307.2 L760,291.2 Z"/></clipPath>
<path d="M733,264.8 L742,261.8 L776,284.8 L813,300.3 L798,307.2 L760,291.2 Z" fill="#56575a" filter="url(#b1)"/>
<g stroke="#f2f2f2" stroke-width="2" stroke-linecap="round" fill="none" filter="url(#b1)">
<path d="M712.9,272.5 C727.0,267.4 741.1,263.9 755.7,260"/>
<path d="M720,278.8 C733.9,273.7 747.7,270.2 762,266.3"/>
<path d="M728,283.2 C741.5,278.4 755.1,275.1 769,271.6"/>
<path d="M734.3,288.6 C748.2,283.8 762.0,280.5 776.3,277"/>
<path d="M741.4,294 C755.3,289.0 769.1,285.5 783.4,281.8"/>
<path d="M750.4,298.4 C763.9,293.6 777.5,290.3 791.4,286.8"/>
<path d="M758.4,303.8 C772.0,298.7 785.5,295.2 799.5,291.3"/>
<path d="M765.5,308.2 C779.4,303.1 793.2,299.6 807.5,295.7"/>
<path d="M773.6,312.7 C787.7,307.3 801.8,303.5 816.4,299.3"/>
<path d="M775.4,318 C791.6,311.7 807.8,307.0 824.5,302"/>
</g>
<!-- dark band across slits -->
<g clip-path="url(#bandc)"><g stroke="#202022" stroke-width="2.6" fill="none" filter="url(#b1)">
<path d="M712.9,272.5 C727.0,267.4 741.1,263.9 755.7,260"/>
<path d="M720,278.8 C733.9,273.7 747.7,270.2 762,266.3"/>
<path d="M728,283.2 C741.5,278.4 755.1,275.1 769,271.6"/>
<path d="M734.3,288.6 C748.2,283.8 762.0,280.5 776.3,277"/>
<path d="M741.4,294 C755.3,289.0 769.1,285.5 783.4,281.8"/>
<path d="M750.4,298.4 C763.9,293.6 777.5,290.3 791.4,286.8"/>
<path d="M758.4,303.8 C772.0,298.7 785.5,295.2 799.5,291.3"/>
<path d="M765.5,308.2 C779.4,303.1 793.2,299.6 807.5,295.7"/>
<path d="M773.6,312.7 C787.7,307.3 801.8,303.5 816.4,299.3"/>
<path d="M775.4,318 C791.6,311.7 807.8,307.0 824.5,302"/>
</g></g>
<!-- white clips -->
<g fill="#f6f6f6" filter="url(#b1)">
<path d="M685,273.2 L701.5,268.2 L702.5,271.6 L686,276.6 Z"/>
<path d="M739.5,251.6 L752,247 L753,250.4 L740.5,255 Z"/>
<path d="M825,303.5 L841,299 L841.8,301.8 L825.8,306.3 Z"/>
<path d="M769.5,329.5 L784,324 L785,326.8 L770.5,332.4 Z"/>
<path d="M802,267 L807,269 L806.3,271 L809.5,272.3 L810.3,270.2 L811.8,270.8 L810.3,275 L800.7,271.2 Z"/>
<path d="M670,270.5 L672,266.8 L675.5,265.5 L676,267 L673.5,268 L672,271.5 Z"/>
<path d="M705,309.5 L713,313.2 L712,315 L704.3,311.2 Z"/>
<path d="M777,260 L786.5,252.5 L787.5,253.8 L778.5,261.5 Z"/>
<path d="M826.5,289.5 L838,280.5 L839,282 L828,291 Z"/>
<path d="M846.5,299.3 L850,301 L848,304.5 L846.5,303.5 L847.8,301.5 L846,300.6 Z"/>
</g>
<g fill="#55565a"><circle cx="741" cy="299.5" r="1.3"/><circle cx="718" cy="303" r="0.9"/><circle cx="722" cy="308.5" r="0.9"/><circle cx="727" cy="311" r="0.9"/><circle cx="710" cy="273.5" r="0.9"/><circle cx="718" cy="283" r="0.9"/><circle cx="700" cy="290.5" r="0.9"/></g>
<!-- cushion -->
<clipPath id="cuc"><path d="M732.4,120.7 C737.5,120.7 742.7,120.9 747.8,122.3 C752.9,123.7 756.7,125.9 763.1,129.2 C769.5,132.5 778.4,137.8 786.1,142.0 C793.8,146.2 802.7,150.9 809.1,154.7 C815.5,158.5 820.5,161.8 824.5,165.0 C828.5,168.2 831.5,170.9 833.4,173.9 C835.3,176.9 836.2,179.8 836.0,182.8 C835.8,185.8 835.7,187.8 832.1,191.8 C828.5,195.9 821.9,201.1 814.2,207.1 C806.5,213.1 794.6,221.6 786.1,227.6 C777.6,233.6 769.5,239.6 763.1,242.9 C756.7,246.2 752.9,246.9 747.8,247.5 C742.7,248.1 738.4,248.1 732.4,246.7 C726.4,245.3 720.1,243.1 712.0,239.1 C703.9,235.1 693.7,228.6 683.9,222.4 C674.1,216.2 661.3,207.7 653.2,202.0 C645.1,196.3 639.3,192.1 635.3,188.0 C631.2,183.9 630.0,180.7 628.9,177.7 C627.8,174.7 628.0,172.1 628.4,170.0 C628.8,167.9 628.6,167.8 631.5,165.0 C634.4,162.2 639.0,157.7 645.6,153.4 C652.2,149.1 662.6,143.7 671.1,139.4 C679.6,135.2 689.0,130.8 696.7,127.9 C704.4,125.1 711.2,123.5 717.1,122.3 C723.0,121.1 727.3,120.7 732.4,120.7 Z"/></clipPath>
<filter id="b3" x="-10%" y="-10%" width="120%" height="120%"><feGaussianBlur stdDeviation="3.2"/></filter>
<g filter="url(#b1)">
<path fill="url(#cSide)" d="M732.4,120.7 C737.5,120.7 742.7,120.9 747.8,122.3 C752.9,123.7 756.7,125.9 763.1,129.2 C769.5,132.5 778.4,137.8 786.1,142.0 C793.8,146.2 802.7,150.9 809.1,154.7 C815.5,158.5 820.5,161.8 824.5,165.0 C828.5,168.2 831.5,170.9 833.4,173.9 C835.3,176.9 836.2,179.8 836.0,182.8 C835.8,185.8 835.7,187.8 832.1,191.8 C828.5,195.9 821.9,201.1 814.2,207.1 C806.5,213.1 794.6,221.6 786.1,227.6 C777.6,233.6 769.5,239.6 763.1,242.9 C756.7,246.2 752.9,246.9 747.8,247.5 C742.7,248.1 738.4,248.1 732.4,246.7 C726.4,245.3 720.1,243.1 712.0,239.1 C703.9,235.1 693.7,228.6 683.9,222.4 C674.1,216.2 661.3,207.7 653.2,202.0 C645.1,196.3 639.3,192.1 635.3,188.0 C631.2,183.9 630.0,180.7 628.9,177.7 C627.8,174.7 628.0,172.1 628.4,170.0 C628.8,167.9 628.6,167.8 631.5,165.0 C634.4,162.2 639.0,157.7 645.6,153.4 C652.2,149.1 662.6,143.7 671.1,139.4 C679.6,135.2 689.0,130.8 696.7,127.9 C704.4,125.1 711.2,123.5 717.1,122.3 C723.0,121.1 727.3,120.7 732.4,120.7 Z"/>
</g>
<g clip-path="url(#cuc)">
<path fill="url(#cTop)" filter="url(#b3)" d="M732.4,120.7 C737.5,120.7 742.7,120.9 747.8,122.3 C752.9,123.7 756.7,125.9 763.1,129.2 C769.5,132.5 778.4,137.8 786.1,142.0 C793.8,146.2 802.7,150.9 809.1,154.7 C815.5,158.5 820.5,161.9 824.5,165.0 C828.5,168.1 831.4,171.3 833.0,173.0 C834.6,174.7 834.6,173.6 834.0,175.0 C833.4,176.4 832.9,178.6 829.6,181.6 C826.3,184.6 821.5,187.7 814.2,193.0 C807.0,198.3 794.6,207.5 786.1,213.5 C777.6,219.5 769.5,225.5 763.1,228.8 C756.7,232.1 752.9,232.8 747.8,233.4 C742.7,234.1 738.4,233.9 732.4,232.7 C726.4,231.5 720.1,229.9 712.0,226.3 C703.9,222.7 693.7,216.8 683.9,211.0 C674.1,205.2 661.3,197.1 653.2,191.8 C645.1,186.5 639.2,182.3 635.3,179.0 C631.3,175.7 630.6,173.6 629.5,172.0 C628.4,170.4 628.3,170.7 628.6,169.5 C628.9,168.3 628.7,167.7 631.5,165.0 C634.3,162.3 639.0,157.7 645.6,153.4 C652.2,149.1 662.6,143.7 671.1,139.4 C679.6,135.2 689.0,130.8 696.7,127.9 C704.4,125.1 711.2,123.5 717.1,122.3 C723.0,121.1 727.3,120.7 732.4,120.7 Z"/>
<path fill="none" stroke="#f1e8cb" stroke-width="2.5" opacity="0.7" filter="url(#b2)" d="M629.5,172.0 C630.5,173.2 631.3,175.7 635.3,179.0 C639.2,182.3 645.1,186.5 653.2,191.8 C661.3,197.1 674.1,205.2 683.9,211.0 C693.7,216.8 703.9,222.7 712.0,226.3 C720.1,229.9 726.4,231.5 732.4,232.7 C738.4,233.9 742.7,234.1 747.8,233.4 C752.9,232.8 756.7,232.1 763.1,228.8 C769.5,225.5 777.6,219.5 786.1,213.5 C794.6,207.5 807.0,198.3 814.2,193.0 C821.5,187.7 826.3,184.6 829.6,181.6 C832.9,178.6 833.3,176.1 834.0,175.0"/>
</g>
</g>

<!-- ===== SLIT SECTION ===== -->
<g id="slit">
<clipPath id="slc"><rect x="0" y="474.6" width="400" height="230"/></clipPath>
<path fill="#b9babe" d="M177.8,475 L274,475 L266,505 C262.5,515 258.8,525 258,535 C258,545 259.4,560 260,578.5 C260.2,585 259.5,589 258.2,592 C256.5,598 253.5,603.5 248.7,607 C246,608.5 243,609.3 240,609.3 L74.3,609.8 L70.6,659 L13.4,659 C15.5,638 18.5,616 21.4,595.7 C22.5,587 25,580.5 28.6,575.7 C32,570 37,565.5 42.9,562.9 C57,559 71,556 85.7,552.9 C105,548.8 124,545 142.9,541.4 C154,539.3 165,537.7 175.7,536.3 L175.7,521.4 C174.3,519.8 173,517.8 172.3,515.7 C173,512.5 174.5,509.5 175.7,507 C176.8,497 177.5,486 177.8,475 Z"/>
<g fill="#fde99a" stroke="#262220" stroke-width="1.2" stroke-linejoin="round">
<path clip-path="url(#slc)" d="M274.1,469 L285,469 L283.4,475 C279.5,489 275.3,503 271.7,517.5 C269.8,523.5 268.5,529.5 268.2,535 C268,540 268.3,544.5 269,548.7 C271,556 274,563.5 277,570.4 C284,585.5 291.5,600.5 298.4,614.5 Q299,616.2 297.3,616.3 L287.5,616.6 Q286,616.6 285.3,615.3 C279,603 273,591 267.7,578.5 C264.5,570.5 261.5,562.5 259.5,554 C258,548 257.4,541.5 257.6,535 C258,529 259.3,523 260.9,517.5 C264.8,503 268.8,489 272.5,475 L274.1,469 Z"/>
<path d="M78.7,628.3 C78.3,624 79.5,620.5 82,617.5 C85,613.5 89.5,610.8 96.7,609.6 L256,609.5 C263,609.7 268.5,610.6 272.8,612.3 C276.5,614 279.3,616.3 281.4,619.1 C283.2,621.5 284.4,623.8 284.8,626 L284.1,638.3 Q284,639.3 283,639.3 L280.7,639.3 Q279.8,639.3 279.7,638.3 L279.3,632.5 C270.5,635.8 261.5,638.8 252.7,641.5 L217.5,641.5 C207,640 197,638 186.3,636 C180,635 174,634.6 168,634.8 L152.5,635 C149.5,634 147.8,627 145.5,626.6 C143.3,627 142,634 139,635.2 L133.5,635.2 C130.5,634.2 129,627.3 126.8,627 C124.6,627.3 123.2,634.2 120.2,635.2 L114.7,635.2 C111.7,634.2 110.2,626.7 108,626.3 C105.8,626.7 105.3,631.3 102.7,632.3 L92,633 L92,641 L83.3,641 C80.5,637.5 79,633 78.7,628.3 Z"/>
</g>
<path d="M82,618.3 C84.5,613.5 90,610 97.5,609.2 L153.3,609.2" fill="none" stroke="#e8212b" stroke-width="5.2" stroke-linecap="round"/>

</g>

<!-- ===== PRESSURE MAPS ===== -->
<g id="pmaps">
<defs>
<filter id="pb1" x="-20%" y="-20%" width="140%" height="140%"><feGaussianBlur stdDeviation="1.0"/></filter>
<filter id="pb2" x="-30%" y="-30%" width="160%" height="160%"><feGaussianBlur stdDeviation="1.7"/></filter>
<filter id="pb3" x="-40%" y="-40%" width="180%" height="180%"><feGaussianBlur stdDeviation="2.6"/></filter>
<clipPath id="pc1"><path d="M379.8,638 L382.5,548 C383,530 395,512 412,503 C430,494.5 450,491.4 470.3,491.4 C492,491.4 512,495 528,503.5 C545,512.5 553.5,530 554,548 L555.6,638 C530,651 500,657.7 470.3,657.7 C438,657.7 408,651 379.8,638 Z"/></clipPath>
</defs>
<g clip-path="url(#pc1)">
<path d="M466,505 L480,505 L482,560 L484,600 L486,652 L452,652 L456,620 L462,585 L468,550 Z" fill="#8db8e8" filter="url(#pb2)"/>
<path d="M447.5,499.6 C454.9,498.7 463.9,501.5 468.9,506.1 C473.9,510.6 475.6,518.3 477.7,526.9 C479.8,535.6 482.2,550.2 481.4,557.8 C480.5,565.5 475.4,566.7 472.8,572.9 C470.3,579.1 468.0,588.6 466.2,595.0 C464.4,601.3 462.6,605.5 461.8,611.0 C461.1,616.5 462.8,622.0 461.9,627.8 C460.9,633.7 460.7,641.8 456.3,646.2 C451.9,650.6 442.4,653.5 435.5,654.1 C428.5,654.7 420.3,652.7 414.5,649.7 C408.8,646.7 403.9,641.8 400.9,636.3 C397.9,630.8 397.7,623.9 396.6,616.8 C395.5,609.6 394.9,600.6 394.4,593.5 C393.9,586.4 392.6,580.6 393.5,574.1 C394.3,567.5 396.6,561.6 399.4,554.3 C402.2,547.0 406.0,537.4 410.2,530.3 C414.4,523.1 418.2,516.4 424.5,511.3 C430.7,506.2 440.1,500.5 447.5,499.6 Z" fill="#e6ecf5" filter="url(#pb3)"/>
<path d="M447.9,501.9 C454.7,501.0 462.7,503.5 467.3,507.7 C471.9,512.0 473.5,519.1 475.5,527.5 C477.4,535.8 479.9,550.1 479.1,557.6 C478.3,565.0 473.2,565.9 470.7,572.0 C468.2,578.1 465.9,587.9 464.0,594.3 C462.1,600.8 460.3,605.2 459.6,610.7 C458.8,616.2 460.4,621.9 459.6,627.6 C458.8,633.2 458.7,640.5 454.7,644.6 C450.7,648.6 441.8,651.3 435.3,651.8 C428.8,652.3 421.0,650.4 415.6,647.7 C410.2,644.9 405.8,640.5 403.0,635.3 C400.2,630.1 399.9,623.4 398.9,616.4 C397.8,609.4 397.2,600.3 396.7,593.3 C396.2,586.3 394.9,580.7 395.7,574.4 C396.5,568.0 398.8,562.3 401.5,555.1 C404.3,548.0 408.1,538.4 412.2,531.4 C416.3,524.4 420.0,518.0 425.9,513.0 C431.9,508.1 441.0,502.8 447.9,501.9 Z" fill="#a8cbef" filter="url(#pb2)"/>
<path d="M448.2,504.0 C454.6,503.1 461.5,505.3 465.7,509.3 C469.9,513.3 471.5,519.9 473.3,527.9 C475.2,535.9 477.7,550.1 476.9,557.3 C476.1,564.5 471.2,565.1 468.7,571.2 C466.2,577.2 463.8,587.2 461.9,593.7 C460.0,600.3 458.1,604.8 457.4,610.4 C456.6,616.0 458.1,621.9 457.4,627.3 C456.7,632.8 456.8,639.3 453.1,643.0 C449.4,646.7 441.3,649.1 435.2,649.6 C429.1,650.0 421.6,648.2 416.6,645.7 C411.5,643.1 407.5,639.2 404.9,634.3 C402.3,629.3 402.0,623.0 401.0,616.1 C400.0,609.3 399.4,600.0 398.9,593.1 C398.4,586.2 397.1,580.8 397.9,574.6 C398.7,568.4 400.9,562.9 403.6,555.9 C406.3,548.9 410.1,539.4 414.1,532.5 C418.1,525.6 421.7,519.5 427.4,514.7 C433.1,510.0 441.8,504.9 448.2,504.0 Z" fill="#4b92dc" filter="url(#pb1)"/>
<path d="M448.5,505.8 C454.5,504.9 460.6,506.8 464.4,510.5 C468.3,514.3 469.8,520.6 471.6,528.3 C473.3,536.1 475.9,550.1 475.1,557.1 C474.3,564.2 469.5,564.4 467.0,570.5 C464.5,576.5 462.1,586.6 460.2,593.2 C458.3,599.8 456.3,604.5 455.6,610.2 C454.8,615.8 456.2,621.9 455.6,627.1 C455.0,632.4 455.3,638.3 451.9,641.7 C448.4,645.2 440.8,647.4 435.1,647.8 C429.3,648.2 422.1,646.5 417.4,644.1 C412.6,641.7 409.0,638.1 406.5,633.4 C404.1,628.7 403.8,622.6 402.8,615.9 C401.8,609.1 401.2,599.8 400.7,593.0 C400.2,586.2 398.9,580.9 399.7,574.9 C400.5,568.8 402.6,563.5 405.3,556.6 C407.9,549.7 411.8,540.2 415.7,533.4 C419.5,526.7 423.1,520.7 428.5,516.1 C434.0,511.5 442.5,506.7 448.5,505.8 Z" fill="#2a6fc9" filter="url(#pb1)"/>
<path d="M448.5,511.3 C453.4,510.7 457.9,512.4 461.0,516.2 C464.1,519.9 465.8,526.9 467.2,533.7 C468.6,540.6 470.3,551.1 469.3,557.2 C468.3,563.3 463.8,564.5 461.3,570.5 C458.8,576.5 456.2,586.6 454.6,593.2 C452.9,599.8 452.0,604.5 451.2,610.2 C450.4,615.8 450.6,622.5 450.0,627.2 C449.4,631.8 449.8,635.6 447.4,638.3 C444.9,641.0 439.5,642.9 435.1,643.3 C430.7,643.7 424.6,642.5 420.8,640.9 C417.0,639.3 414.2,637.6 412.1,633.5 C410.1,629.3 409.6,622.6 408.6,615.9 C407.6,609.1 406.8,599.8 406.3,593.0 C405.8,586.2 404.8,580.9 405.5,574.8 C406.3,568.8 408.2,563.5 410.8,556.5 C413.4,549.6 417.8,539.5 421.3,533.4 C424.8,527.2 427.3,523.3 431.9,519.6 C436.4,515.9 443.7,511.9 448.5,511.3 Z" fill="#2b9aa6" filter="url(#pb1)"/>
<path d="M448.7,512.6 C453.2,512.0 457.1,513.4 460.0,517.0 C462.9,520.6 464.6,527.3 465.9,534.0 C467.2,540.7 469.0,551.0 468.0,557.0 C467.0,563.0 462.6,564.0 460.1,570.0 C457.7,576.0 455.0,586.2 453.3,592.9 C451.6,599.6 450.7,604.3 449.9,610.0 C449.1,615.7 449.3,622.4 448.7,627.0 C448.1,631.6 448.7,634.9 446.4,637.4 C444.1,639.9 439.2,641.6 435.0,642.0 C430.8,642.4 424.9,641.2 421.3,639.7 C417.7,638.2 415.2,636.9 413.3,632.9 C411.4,628.9 410.8,622.4 409.9,615.7 C408.9,609.0 408.1,599.7 407.6,592.9 C407.1,586.1 406.1,581.0 406.8,575.0 C407.5,569.0 409.4,563.8 412.0,557.0 C414.6,550.2 418.9,540.1 422.4,534.0 C425.8,527.9 428.3,524.2 432.7,520.6 C437.1,517.0 444.1,513.2 448.7,512.6 Z" fill="#3cb43c" filter="url(#pb1)"/>
<path d="M421.0,580.0 C427.3,577.5 447.2,577.0 452.0,579.0 C456.8,581.0 452.0,587.5 450.0,592.0 C448.0,596.5 443.7,602.7 440.0,606.0 C436.3,609.3 431.7,612.0 428.0,612.0 C424.3,612.0 420.3,609.0 418.0,606.0 C415.7,603.0 413.5,598.3 414.0,594.0 C414.5,589.7 414.7,582.5 421.0,580.0 Z" fill="#6cc43b" filter="url(#pb3)" opacity="0.8"/>
<path d="M418.8,532.9 C422.8,530.0 432.8,524.5 438.9,522.2 C445.0,519.8 451.5,517.0 455.3,518.8 C459.1,520.7 460.5,528.6 461.7,533.5 C462.9,538.4 462.5,542.9 462.4,548.1 C462.3,553.3 462.7,559.3 461.1,564.9 C459.5,570.4 457.9,579.9 453.0,581.4 C448.1,582.9 437.1,573.9 431.8,574.0 C426.4,574.1 423.9,583.7 420.8,582.2 C417.6,580.7 414.3,570.3 412.9,564.9 C411.5,559.5 411.9,554.2 412.2,550.0 C412.5,545.7 413.6,542.4 414.7,539.6 C415.8,536.7 414.7,535.8 418.8,532.9 Z" fill="#62c03c" filter="url(#pb3)"/>
<path d="M420.2,534.9 C424.0,532.3 434.2,526.8 439.9,524.5 C445.6,522.2 450.9,519.5 454.2,521.1 C457.4,522.7 458.3,529.4 459.3,533.9 C460.2,538.4 460.0,543.0 459.9,548.0 C459.8,553.1 459.9,559.2 458.7,564.4 C457.4,569.6 456.9,577.8 452.4,579.0 C447.9,580.1 436.8,571.3 431.7,571.5 C426.5,571.7 424.4,581.0 421.7,579.9 C419.0,578.7 416.5,569.4 415.3,564.4 C414.2,559.5 414.4,554.2 414.7,550.2 C415.0,546.1 416.2,542.9 417.1,540.4 C418.0,537.8 416.4,537.6 420.2,534.9 Z" fill="#a3d238" filter="url(#pb2)"/>
<path d="M421.0,536.2 C424.7,533.7 435.1,528.1 440.5,525.8 C445.9,523.6 450.6,521.1 453.5,522.4 C456.4,523.8 457.0,529.9 457.8,534.2 C458.6,538.5 458.5,543.0 458.4,548.0 C458.3,553.0 458.2,559.2 457.2,564.1 C456.1,569.0 456.4,576.5 452.1,577.5 C447.8,578.5 436.6,569.8 431.6,570.0 C426.6,570.2 424.7,579.4 422.2,578.5 C419.8,577.5 417.8,568.8 416.8,564.1 C415.8,559.4 415.9,554.1 416.2,550.3 C416.5,546.4 417.7,543.2 418.5,540.8 C419.3,538.5 417.4,538.7 421.0,536.2 Z" fill="#f6ec36" filter="url(#pb1)"/>
<path d="M423.5,539.5 C426.7,537.2 436.0,531.7 440.7,529.5 C445.4,527.3 449.2,525.4 451.5,526.5 C453.8,527.6 453.9,532.4 454.5,536.0 C455.1,539.6 455.1,543.5 455.0,548.0 C454.9,552.5 454.8,558.9 454.0,563.0 C453.2,567.1 453.7,572.0 450.0,572.5 C446.3,573.0 436.0,565.9 431.6,566.0 C427.2,566.1 425.4,573.5 423.5,573.0 C421.6,572.5 420.7,566.7 420.0,563.0 C419.3,559.3 419.2,554.3 419.5,551.0 C419.8,547.7 420.8,544.9 421.5,543.0 C422.2,541.1 420.3,541.8 423.5,539.5 Z" fill="#f9a423" filter="url(#pb2)"/>
<path d="M422,538.5 L434,552 L431,556 L420.5,543.5 Z" fill="#f9dd2e" filter="url(#pb1)" opacity="0.85"/>
<path d="M437.1,535.6 C438.6,534.1 443.4,534.7 446.2,536.4 C448.9,538.0 453.2,542.2 453.7,545.5 C454.1,548.7 450.9,553.3 448.9,555.9 C446.9,558.4 443.7,561.3 441.7,561.0 C439.7,560.7 437.6,556.6 436.8,554.0 C436.1,551.5 437.3,548.8 437.4,545.7 C437.5,542.6 435.7,537.2 437.1,535.6 Z" fill="#f3701f" filter="url(#pb2)"/>
<path d="M438.2,536.5 C439.3,535.1 443.1,536.0 445.4,537.5 C447.8,539.1 451.9,542.8 452.3,545.7 C452.7,548.6 449.5,552.7 447.8,555.0 C446.0,557.3 443.5,559.8 441.9,559.6 C440.3,559.4 438.7,556.1 438.2,553.7 C437.7,551.4 438.8,548.6 438.8,545.7 C438.8,542.8 437.1,537.8 438.2,536.5 Z" fill="#ee2e24" filter="url(#pb1)"/>
<path d="M428,610 L438,609 L441,618 L434,624 L427,620 Z" fill="#2f9ec0" opacity="0.6" filter="url(#pb2)"/>
<path d="M502.5,503.5 C510.2,503.3 518.4,506.8 524.1,510.5 C529.8,514.2 533.5,520.0 536.7,525.7 C539.9,531.5 541.7,538.5 543.2,544.7 C544.7,551.0 545.3,558.0 545.5,563.3 C545.7,568.6 545.3,571.4 544.4,576.5 C543.4,581.5 541.0,588.0 539.7,593.7 C538.4,599.4 537.4,604.8 536.4,610.5 C535.4,616.3 535.8,621.9 533.9,628.3 C532.1,634.7 530.1,644.3 525.1,649.0 C520.1,653.8 510.6,655.4 504.0,656.7 C497.4,657.9 491.2,658.6 485.6,656.4 C480.0,654.3 472.7,649.0 470.5,643.8 C468.3,638.6 471.8,631.1 472.5,625.4 C473.2,619.6 474.6,614.7 474.6,609.3 C474.6,603.9 473.4,598.8 472.5,593.2 C471.6,587.7 469.7,582.7 468.9,575.9 C468.2,569.0 467.8,560.0 467.8,552.0 C467.8,544.0 467.4,534.5 469.0,527.8 C470.7,521.1 472.2,515.8 477.8,511.7 C483.4,507.7 494.8,503.7 502.5,503.5 Z" fill="#e6ecf5" filter="url(#pb3)"/>
<path d="M502.5,505.8 C509.8,505.6 517.4,508.9 522.8,512.4 C528.1,515.9 531.6,521.4 534.7,526.8 C537.7,532.3 539.5,539.1 541.0,545.2 C542.4,551.3 543.0,558.3 543.2,563.4 C543.4,568.5 543.1,571.0 542.1,576.0 C541.1,581.0 538.8,587.5 537.5,593.2 C536.1,598.9 535.1,604.4 534.1,610.2 C533.2,615.9 533.5,621.5 531.7,627.7 C530.0,633.9 528.2,642.9 523.5,647.4 C518.8,651.8 509.8,653.3 503.6,654.4 C497.4,655.6 491.5,656.2 486.3,654.3 C481.2,652.4 474.6,647.8 472.7,643.0 C470.8,638.3 474.0,631.3 474.8,625.7 C475.5,620.1 476.9,614.8 476.9,609.3 C476.9,603.8 475.7,598.5 474.8,592.9 C473.8,587.2 472.0,582.4 471.2,575.6 C470.5,568.8 470.1,559.9 470.1,552.0 C470.1,544.1 469.8,534.7 471.3,528.3 C472.8,521.9 473.9,517.4 479.1,513.6 C484.3,509.9 495.3,506.0 502.5,505.8 Z" fill="#a8cbef" filter="url(#pb2)"/>
<path d="M502.6,508.0 C509.5,507.8 516.5,510.9 521.6,514.2 C526.6,517.5 529.9,522.6 532.7,527.9 C535.6,533.1 537.4,539.8 538.8,545.7 C540.2,551.7 540.8,558.5 541.0,563.5 C541.2,568.5 540.9,570.7 539.9,575.6 C539.0,580.4 536.7,587.0 535.3,592.7 C534.0,598.4 532.9,604.0 532.0,609.8 C531.0,615.5 531.3,621.2 529.6,627.2 C527.9,633.2 526.4,641.6 522.0,645.8 C517.6,650.0 509.1,651.2 503.2,652.3 C497.4,653.3 491.7,653.8 487.0,652.2 C482.2,650.5 476.4,646.7 474.8,642.3 C473.1,637.9 476.2,631.5 476.9,626.0 C477.7,620.5 479.1,614.9 479.1,609.3 C479.1,603.7 477.9,598.2 476.9,592.5 C476.0,586.8 474.2,582.1 473.4,575.3 C472.6,568.6 472.3,559.8 472.3,552.0 C472.3,544.2 472.1,534.8 473.5,528.7 C474.8,522.6 475.5,518.9 480.4,515.4 C485.2,512.0 495.7,508.2 502.6,508.0 Z" fill="#4b92dc" filter="url(#pb1)"/>
<path d="M502.7,509.8 C509.2,509.6 515.8,512.5 520.6,515.7 C525.3,518.9 528.4,523.7 531.2,528.7 C533.9,533.8 535.7,540.3 537.1,546.1 C538.4,551.9 539.0,558.7 539.2,563.6 C539.4,568.4 539.1,570.4 538.2,575.2 C537.2,580.0 534.9,586.6 533.6,592.3 C532.2,598.0 531.1,603.8 530.2,609.5 C529.2,615.2 529.4,620.9 527.9,626.7 C526.3,632.5 524.9,640.5 520.7,644.5 C516.6,648.4 508.4,649.5 502.9,650.5 C497.4,651.5 491.9,651.9 487.5,650.4 C483.1,649.0 477.9,645.7 476.5,641.7 C475.0,637.7 478.0,631.6 478.7,626.2 C479.5,620.8 480.9,615.0 480.9,609.3 C480.9,603.6 479.7,597.9 478.7,592.2 C477.8,586.5 476.0,581.8 475.2,575.1 C474.4,568.4 474.1,559.7 474.1,552.0 C474.1,544.3 474.0,534.9 475.2,529.1 C476.4,523.2 476.8,520.1 481.4,516.9 C486.0,513.7 496.1,510.0 502.7,509.8 Z" fill="#2a6fc9" filter="url(#pb1)"/>
<path d="M502.6,516.6 C507.7,516.4 513.1,518.7 517.1,521.3 C521.1,523.9 524.4,527.9 526.7,532.1 C529.1,536.2 530.2,540.9 531.4,546.1 C532.5,551.4 533.4,558.7 533.7,563.5 C534.0,568.4 533.8,570.4 533.1,575.2 C532.3,580.0 530.4,586.6 529.2,592.3 C527.9,598.0 526.7,603.8 525.7,609.5 C524.7,615.3 524.7,621.5 523.4,626.7 C522.0,632.0 520.4,637.5 517.4,640.9 C514.4,644.4 509.9,646.6 505.3,647.7 C500.7,648.7 493.9,648.2 489.8,647.2 C485.7,646.2 482.0,645.2 480.9,641.7 C479.7,638.2 482.4,631.6 483.1,626.2 C483.9,620.8 485.2,614.9 485.4,609.3 C485.6,603.6 485.1,597.9 484.3,592.2 C483.5,586.5 481.6,581.9 480.8,575.1 C480.0,568.4 479.5,558.7 479.7,552.0 C479.9,545.2 480.8,539.6 482.0,534.7 C483.3,529.8 483.6,525.6 487.0,522.6 C490.5,519.6 497.6,516.8 502.6,516.6 Z" fill="#2b9aa6" filter="url(#pb1)"/>
<path d="M502.7,517.9 C507.4,517.7 512.6,519.9 516.4,522.4 C520.2,524.9 523.3,528.7 525.6,532.7 C527.9,536.7 529.0,541.2 530.1,546.4 C531.2,551.5 532.1,558.8 532.4,563.6 C532.7,568.4 532.5,570.3 531.8,575.0 C531.0,579.7 529.1,586.3 527.9,592.0 C526.7,597.7 525.4,603.6 524.4,609.3 C523.4,615.0 523.4,621.3 522.1,626.4 C520.8,631.5 519.2,636.8 516.4,640.1 C513.5,643.4 509.4,645.4 505.0,646.4 C500.6,647.4 493.9,646.8 490.1,645.9 C486.3,645.0 483.1,644.5 482.1,641.3 C481.2,638.0 483.6,631.7 484.4,626.4 C485.2,621.1 486.5,615.0 486.7,609.3 C486.9,603.6 486.4,597.7 485.6,592.0 C484.8,586.3 482.9,581.7 482.1,575.0 C481.3,568.3 480.8,558.7 481.0,552.0 C481.2,545.3 482.2,539.7 483.3,535.0 C484.4,530.3 484.7,526.5 487.9,523.6 C491.1,520.8 497.9,518.1 502.7,517.9 Z" fill="#3cb43c" filter="url(#pb1)"/>
<path d="M497.0,582.0 C498.3,582.0 500.0,590.0 500.5,595.0 C501.0,600.0 500.4,606.8 500.0,612.0 C499.6,617.2 499.2,623.7 498.0,626.0 C496.8,628.3 494.0,628.7 493.0,626.0 C492.0,623.3 492.1,615.2 492.0,610.0 C491.9,604.8 491.7,599.7 492.5,595.0 C493.3,590.3 495.7,582.0 497.0,582.0 Z" fill="#86cc3a" filter="url(#pb3)"/>
<path d="M492.7,520.1 C496.7,518.3 506.1,519.2 509.9,521.6 C513.7,524.0 514.1,530.2 515.7,534.4 C517.4,538.6 520.0,542.9 519.8,546.6 C519.6,550.2 516.4,552.8 514.8,556.3 C513.2,559.8 511.6,563.8 510.2,567.5 C508.9,571.2 509.0,575.3 506.9,578.7 C504.7,582.2 500.1,588.8 497.4,588.4 C494.7,588.0 492.2,580.7 490.4,576.4 C488.7,572.1 488.3,567.5 487.0,562.5 C485.6,557.6 482.4,551.6 482.2,546.6 C482.0,541.6 484.0,536.9 485.8,532.5 C487.5,528.1 488.7,521.9 492.7,520.1 Z" fill="#62c03c" filter="url(#pb3)"/>
<path d="M493.8,522.3 C497.2,520.7 505.2,521.5 508.5,523.7 C511.7,525.8 511.9,531.5 513.4,535.3 C514.8,539.1 517.4,543.2 517.3,546.5 C517.2,549.8 514.1,551.9 512.5,555.3 C510.9,558.6 509.2,562.9 507.9,566.7 C506.6,570.4 506.2,574.6 504.5,577.8 C502.9,581.0 500.0,586.3 498.0,585.9 C496.1,585.6 494.2,579.6 492.8,575.6 C491.4,571.6 490.7,566.7 489.4,561.8 C488.0,557.0 484.9,551.2 484.7,546.5 C484.5,541.7 486.6,537.4 488.1,533.3 C489.6,529.3 490.4,523.9 493.8,522.3 Z" fill="#a3d238" filter="url(#pb2)"/>
<path d="M495.8,625.0 C498.5,624.9 502.5,627.1 504.0,629.3 C505.5,631.5 506.0,635.8 504.9,638.2 C503.7,640.7 499.7,643.8 497.0,644.0 C494.3,644.2 490.0,641.9 488.4,639.6 C486.9,637.3 486.7,632.6 487.9,630.2 C489.1,627.7 493.1,625.2 495.8,625.0 Z" fill="#62c03c" filter="url(#pb3)"/>
<path d="M496.0,628.0 C497.8,627.9 500.5,629.4 501.5,630.9 C502.5,632.4 502.9,635.3 502.1,637.0 C501.4,638.7 498.7,640.8 496.8,641.0 C494.9,641.1 492.0,639.5 490.9,637.9 C489.9,636.3 489.7,633.2 490.6,631.6 C491.4,629.9 494.2,628.1 496.0,628.0 Z" fill="#a3d238" filter="url(#pb2)"/>
<path d="M494.5,523.7 C497.5,522.2 504.7,522.9 507.6,524.9 C510.5,526.9 510.6,532.2 512.0,535.8 C513.3,539.4 515.9,543.3 515.8,546.4 C515.7,549.6 512.7,551.3 511.2,554.6 C509.6,557.9 507.8,562.4 506.5,566.2 C505.1,569.9 504.5,574.1 503.2,577.2 C501.8,580.2 499.9,584.8 498.4,584.5 C496.9,584.1 495.5,579.0 494.2,575.2 C493.0,571.3 492.2,566.2 490.8,561.4 C489.5,556.6 486.4,551.0 486.2,546.4 C486.0,541.8 488.2,537.6 489.5,533.8 C490.9,530.0 491.5,525.1 494.5,523.7 Z" fill="#f6ec36" filter="url(#pb1)"/>
<path d="M493.6,527.0 C497.0,524.0 506.4,524.0 509.6,527.0 C512.8,530.0 513.2,541.1 513.0,545.3 C512.8,549.5 511.8,550.9 508.4,552.0 C505.0,553.1 495.6,553.1 492.4,552.0 C489.2,550.9 488.8,549.5 489.0,545.3 C489.2,541.1 490.2,530.0 493.6,527.0 Z" fill="#f9a423" filter="url(#pb2)"/>
<path d="M496.2,630.5 C497.3,630.4 498.8,631.4 499.4,632.3 C500.0,633.2 500.3,635.0 499.9,636.0 C499.4,637.0 497.8,638.4 496.6,638.5 C495.5,638.6 493.6,637.4 493.0,636.5 C492.3,635.5 492.2,633.8 492.8,632.8 C493.3,631.8 495.1,630.6 496.2,630.5 Z" fill="#f6ec36" filter="url(#pb1)"/>
<path d="M496.3,532.3 C498.4,532.7 503.2,539.3 504.2,542.5 C505.2,545.6 504.4,550.0 502.4,551.3 C500.5,552.5 494.3,551.6 492.4,549.8 C490.6,548.0 490.8,543.4 491.4,540.5 C492.1,537.5 494.1,532.0 496.3,532.3 Z" fill="#f3701f" filter="url(#pb2)"/>
<path d="M495.9,533.7 C497.6,534.1 501.9,540.2 502.9,542.9 C503.8,545.7 503.3,549.1 501.7,550.1 C500.1,551.1 494.9,550.4 493.5,548.8 C492.0,547.3 492.4,543.2 492.8,540.7 C493.2,538.1 494.3,533.3 495.9,533.7 Z" fill="#ee2e24" filter="url(#pb1)"/>
<path d="M469.5,583.0 C470.8,584.2 473.2,592.3 474.5,597.0 C475.8,601.7 476.5,606.5 477.0,611.0 C477.5,615.5 478.2,620.8 477.3,624.0 C476.4,627.2 473.8,630.2 471.5,630.5 C469.2,630.8 465.3,628.9 463.5,626.0 C461.7,623.1 460.9,617.3 460.8,613.0 C460.7,608.7 462.1,603.8 463.0,600.0 C463.9,596.2 465.4,592.8 466.5,590.0 C467.6,587.2 468.2,581.8 469.5,583.0 Z" fill="#ffffff" filter="url(#pb1)"/>
<path d="M464.0,630.0 C466.5,628.8 469.5,631.3 472.0,633.0 C474.5,634.7 477.3,637.2 479.0,640.0 C480.7,642.8 484.2,647.7 482.0,650.0 C479.8,652.3 471.0,654.0 466.0,654.0 C461.0,654.0 453.5,652.3 452.0,650.0 C450.5,647.7 455.0,643.3 457.0,640.0 C459.0,636.7 461.5,631.2 464.0,630.0 Z" fill="#a9c9ee" filter="url(#pb2)" opacity="0.9"/>
</g>
<path d="M379.8,638 L382.5,548 C383,530 395,512 412,503 C430,494.5 450,491.4 470.3,491.4 C492,491.4 512,495 528,503.5 C545,512.5 553.5,530 554,548 L555.6,638 C530,651 500,657.7 470.3,657.7 C438,657.7 408,651 379.8,638 Z" fill="none" stroke="#1a1a1a" stroke-width="1.1"/>
<g transform="translate(200,0)"><g clip-path="url(#pc1)"><g transform="translate(-200,0)">
<path d="M647.2,497.8 C654.5,497.4 663.0,499.6 667.8,503.1 C672.5,506.6 674.0,512.9 675.7,519.0 C677.4,525.2 677.8,533.1 677.8,540.0 C677.8,546.9 676.6,553.5 675.8,560.2 C675.1,566.8 674.1,574.8 673.2,579.8 C672.3,584.8 671.6,586.3 670.5,590.0 C669.4,593.6 667.4,598.1 666.8,601.8 C666.2,605.5 665.9,607.8 666.8,612.2 C667.7,616.7 671.8,622.6 672.1,628.3 C672.4,634.1 671.5,642.0 668.5,646.9 C665.5,651.8 659.8,655.8 654.1,657.9 C648.4,660.0 641.2,660.3 634.2,659.6 C627.2,658.8 618.1,656.9 612.2,653.7 C606.3,650.4 601.8,645.6 598.8,640.2 C595.7,634.8 595.3,627.7 594.2,621.2 C593.1,614.7 592.5,607.3 592.1,601.2 C591.7,595.1 591.5,590.7 591.8,584.6 C592.2,578.4 592.9,571.1 594.2,564.3 C595.5,557.5 597.1,550.7 599.7,543.8 C602.2,537.0 605.2,529.5 609.4,523.1 C613.5,516.7 618.1,509.7 624.4,505.5 C630.7,501.3 640.0,498.2 647.2,497.8 Z" fill="#e6ecf5" filter="url(#pb3)"/>
<path d="M647.4,500.1 C654.2,499.7 662.1,501.7 666.4,504.9 C670.8,508.2 672.0,513.7 673.5,519.6 C675.0,525.4 675.5,533.3 675.5,540.0 C675.5,546.7 674.3,553.3 673.6,559.9 C672.8,566.5 671.8,574.5 670.9,579.4 C670.0,584.3 669.4,585.7 668.3,589.3 C667.2,593.0 665.2,597.6 664.5,601.5 C663.9,605.4 663.6,608.1 664.5,612.7 C665.4,617.2 669.5,623.0 669.8,628.5 C670.1,634.1 669.2,641.2 666.5,645.7 C663.7,650.3 658.7,653.8 653.3,655.7 C648.0,657.7 641.1,658.0 634.5,657.3 C627.8,656.6 618.9,654.6 613.3,651.6 C607.7,648.6 603.6,644.2 600.8,639.1 C598.0,634.0 597.5,627.2 596.5,620.8 C595.4,614.5 594.8,607.1 594.4,601.0 C594.0,595.0 593.8,590.8 594.1,584.7 C594.5,578.7 595.2,571.4 596.5,564.7 C597.8,558.0 599.3,551.3 601.8,544.6 C604.3,537.9 607.3,530.5 611.3,524.3 C615.3,518.1 619.7,511.4 625.7,507.4 C631.7,503.4 640.6,500.5 647.4,500.1 Z" fill="#a8cbef" filter="url(#pb2)"/>
<path d="M647.6,502.3 C653.9,501.9 661.1,503.7 665.1,506.7 C669.1,509.7 670.0,514.5 671.3,520.0 C672.7,525.6 673.3,533.4 673.3,540.0 C673.3,546.6 672.1,553.1 671.4,559.6 C670.6,566.2 669.6,574.2 668.8,579.0 C667.9,583.9 667.2,585.0 666.2,588.7 C665.1,592.4 663.0,597.1 662.4,601.2 C661.7,605.2 661.5,608.5 662.4,613.1 C663.2,617.7 667.2,623.5 667.6,628.7 C668.0,634.0 667.1,640.5 664.6,644.6 C662.1,648.8 657.6,651.9 652.6,653.6 C647.7,655.4 641.1,655.7 634.7,655.1 C628.3,654.4 619.6,652.5 614.3,649.7 C609.0,646.8 605.4,643.0 602.7,638.1 C600.1,633.2 599.7,626.7 598.6,620.5 C597.6,614.3 597.0,606.8 596.6,600.9 C596.2,595.0 596.0,590.8 596.3,584.8 C596.6,578.9 597.4,571.7 598.7,565.1 C599.9,558.6 601.5,552.0 603.9,545.4 C606.3,538.8 609.3,531.5 613.2,525.5 C617.0,519.5 621.2,513.1 626.9,509.2 C632.7,505.4 641.2,502.7 647.6,502.3 Z" fill="#4b92dc" filter="url(#pb1)"/>
<path d="M647.7,504.1 C653.7,503.7 660.4,505.4 664.0,508.1 C667.7,510.9 668.3,515.1 669.6,520.4 C670.8,525.7 671.5,533.5 671.5,540.0 C671.5,546.5 670.3,553.0 669.6,559.4 C668.8,565.9 667.8,573.9 667.0,578.7 C666.1,583.5 665.5,584.5 664.5,588.2 C663.4,591.9 661.2,596.7 660.6,600.9 C659.9,605.1 659.7,608.7 660.6,613.4 C661.4,618.1 665.4,623.8 665.8,628.9 C666.2,633.9 665.3,639.9 663.0,643.7 C660.7,647.6 656.8,650.3 652.1,651.9 C647.4,653.5 641.0,653.9 634.9,653.3 C628.7,652.6 620.2,650.7 615.1,648.1 C610.1,645.4 606.8,641.9 604.3,637.3 C601.9,632.6 601.4,626.3 600.4,620.2 C599.4,614.1 598.8,606.7 598.4,600.8 C598.0,594.9 597.8,590.8 598.1,584.9 C598.4,579.0 599.2,572.0 600.4,565.5 C601.7,559.0 603.2,552.5 605.6,546.0 C608.0,539.5 611.0,532.3 614.7,526.5 C618.4,520.6 622.4,514.4 627.9,510.7 C633.4,507.0 641.7,504.5 647.7,504.1 Z" fill="#2a6fc9" filter="url(#pb1)"/>
<path d="M647.6,510.4 C652.6,509.8 658.5,510.9 661.5,513.3 C664.5,515.6 664.9,519.9 665.9,524.3 C666.8,528.8 667.2,534.2 667.1,540.0 C667.0,545.9 665.9,553.0 665.2,559.5 C664.4,565.9 663.5,574.0 662.6,578.8 C661.6,583.6 660.5,584.6 659.3,588.3 C658.2,592.0 656.2,596.7 655.6,600.9 C655.0,605.1 654.7,608.7 655.6,613.4 C656.4,618.0 660.1,624.4 660.7,628.8 C661.3,633.2 660.9,636.8 659.3,639.9 C657.6,643.0 654.9,646.0 650.8,647.5 C646.8,649.0 640.2,649.4 634.9,648.9 C629.6,648.3 623.0,646.4 619.0,644.2 C615.0,642.1 612.8,640.0 610.7,636.0 C608.7,632.0 607.7,626.1 606.7,620.2 C605.7,614.4 605.1,606.7 604.7,600.8 C604.3,594.9 603.8,590.6 604.1,584.9 C604.4,579.2 605.4,572.8 606.7,566.7 C608.0,560.7 609.5,554.6 611.9,548.5 C614.3,542.5 617.7,535.6 621.0,530.3 C624.3,525.1 627.2,520.4 631.6,517.1 C636.1,513.7 642.6,511.0 647.6,510.4 Z" fill="#2b9aa6" filter="url(#pb1)"/>
<path d="M647.8,511.7 C652.5,511.1 657.9,512.1 660.7,514.3 C663.5,516.4 663.8,520.3 664.6,524.6 C665.5,528.9 665.9,534.2 665.8,540.0 C665.7,545.8 664.6,552.9 663.9,559.3 C663.1,565.7 662.3,573.7 661.3,578.5 C660.3,583.3 659.3,584.2 658.1,587.9 C656.9,591.6 654.9,596.4 654.3,600.7 C653.7,605.0 653.4,608.9 654.3,613.6 C655.1,618.3 658.8,624.7 659.4,629.0 C660.0,633.3 659.6,636.4 658.1,639.3 C656.6,642.2 654.2,644.9 650.4,646.3 C646.5,647.7 640.1,648.1 635.0,647.6 C629.9,647.1 623.5,645.1 619.6,643.1 C615.8,641.1 613.8,639.2 611.9,635.4 C610.0,631.5 609.0,625.8 608.0,620.0 C607.0,614.2 606.4,606.5 606.0,600.7 C605.6,594.9 605.1,590.6 605.4,585.0 C605.7,579.4 606.7,573.0 608.0,567.0 C609.3,561.0 610.8,555.0 613.1,549.0 C615.5,543.0 618.9,536.1 622.1,531.0 C625.3,525.9 628.1,521.3 632.4,518.1 C636.7,514.9 643.1,512.3 647.8,511.7 Z" fill="#3cb43c" filter="url(#pb1)"/>
<path d="M613.0,588.0 C615.2,586.3 622.5,590.5 625.0,592.0 C627.5,593.5 625.5,597.3 628.0,597.0 C630.5,596.7 637.0,589.5 640.0,590.0 C643.0,590.5 646.0,596.7 646.0,600.0 C646.0,603.3 642.3,609.3 640.0,610.0 C637.7,610.7 635.3,603.7 632.0,604.0 C628.7,604.3 623.3,612.3 620.0,612.0 C616.7,611.7 613.2,606.0 612.0,602.0 C610.8,598.0 610.8,589.7 613.0,588.0 Z" fill="#a3d238" filter="url(#pb3)" opacity="0.9"/>
<path d="M647.1,518.1 C651.9,517.9 662.0,517.2 664.7,521.9 C667.5,526.7 664.6,538.5 663.9,546.8 C663.2,555.1 664.0,566.1 660.7,571.9 C657.3,577.6 649.5,577.7 643.8,581.1 C638.0,584.5 630.5,593.6 626.1,592.2 C621.8,590.9 619.3,579.5 617.7,572.9 C616.0,566.3 615.8,559.0 616.3,552.5 C616.9,545.9 617.6,538.4 621.0,533.5 C624.4,528.6 632.2,525.8 636.5,523.2 C640.9,520.7 642.4,518.4 647.1,518.1 Z" fill="#62c03c" filter="url(#pb3)"/>
<path d="M647.5,520.6 C651.6,520.2 660.2,518.7 662.5,523.0 C664.8,527.3 662.1,538.6 661.4,546.6 C660.7,554.5 661.7,565.2 658.5,570.6 C655.4,576.0 647.7,575.8 642.5,579.0 C637.2,582.2 630.5,590.9 626.8,589.8 C623.1,588.7 621.5,578.7 620.1,572.5 C618.8,566.3 618.3,558.9 618.8,552.7 C619.3,546.4 619.9,539.5 623.1,535.0 C626.2,530.4 633.7,527.8 637.8,525.4 C641.9,523.0 643.4,521.0 647.5,520.6 Z" fill="#a3d238" filter="url(#pb2)"/>
<path d="M627.2,600.1 C631.0,599.8 636.6,606.3 640.8,610.4 C645.0,614.6 652.3,618.6 652.3,624.9 C652.3,631.3 646.7,645.4 640.9,648.4 C635.1,651.3 622.0,646.3 617.7,642.6 C613.4,638.9 615.1,631.2 615.1,626.2 C615.1,621.2 615.7,616.8 617.8,612.5 C619.8,608.2 623.3,600.4 627.2,600.1 Z" fill="#62c03c" filter="url(#pb3)"/>
<path d="M627.2,602.6 C630.4,602.4 635.3,608.4 639.0,612.2 C642.8,615.9 649.7,619.4 649.8,625.0 C649.9,630.7 644.8,643.5 639.7,646.2 C634.7,648.8 623.1,644.1 619.4,640.8 C615.7,637.4 617.5,630.9 617.6,626.3 C617.7,621.7 618.5,617.3 620.1,613.3 C621.7,609.4 624.1,602.8 627.2,602.6 Z" fill="#a3d238" filter="url(#pb2)"/>
<path d="M637.0,515.6 C637.9,514.9 642.3,515.6 643.5,516.5 C644.7,517.4 644.9,520.0 644.0,520.7 C643.1,521.5 639.2,521.9 638.0,521.0 C636.8,520.1 636.1,516.4 637.0,515.6 Z" fill="#a3d238" filter="url(#pb2)"/>
<path d="M647.7,522.1 C651.5,521.6 659.1,519.6 661.1,523.7 C663.2,527.7 660.6,538.7 659.9,546.4 C659.2,554.1 660.3,564.6 657.2,569.9 C654.2,575.1 646.7,574.6 641.7,577.7 C636.7,580.8 630.5,589.3 627.2,588.4 C623.8,587.5 622.8,578.1 621.6,572.2 C620.5,566.3 619.9,558.8 620.3,552.8 C620.7,546.7 621.2,540.2 624.3,535.8 C627.3,531.5 634.6,529.0 638.5,526.7 C642.5,524.4 644.0,522.6 647.7,522.1 Z" fill="#f6ec36" filter="url(#pb1)"/>
<path d="M627.3,604.1 C630.0,604.0 634.5,609.7 638.0,613.2 C641.5,616.7 648.1,619.8 648.3,625.1 C648.5,630.3 643.7,642.4 639.0,644.8 C634.4,647.3 623.8,642.7 620.5,639.7 C617.1,636.6 618.9,630.7 619.1,626.4 C619.3,622.1 620.2,617.5 621.5,613.8 C622.9,610.1 624.5,604.2 627.3,604.1 Z" fill="#f6ec36" filter="url(#pb1)"/>
<path d="M648.0,525.5 C651.1,524.9 656.5,523.0 658.0,526.5 C659.5,530.0 657.6,539.6 657.0,546.4 C656.4,553.1 657.1,562.3 654.3,567.0 C651.5,571.7 644.0,572.3 640.0,574.5 C636.0,576.7 632.5,580.7 630.0,580.0 C627.5,579.3 625.8,575.0 624.7,570.5 C623.6,566.0 623.0,558.4 623.4,553.0 C623.8,547.6 624.3,542.1 627.0,538.3 C629.7,534.5 636.0,532.1 639.5,530.0 C643.0,527.9 644.9,526.1 648.0,525.5 Z" fill="#f9a423" filter="url(#pb2)"/>
<path d="M628.6,623.0 C630.5,623.4 634.6,625.7 635.5,628.0 C636.4,630.3 635.6,635.2 634.0,637.0 C632.4,638.8 628.0,639.3 626.0,638.5 C624.0,637.7 622.6,634.2 622.3,632.0 C622.0,629.8 623.0,627.0 624.0,625.5 C625.0,624.0 626.7,622.6 628.6,623.0 Z" fill="#f9a423" filter="url(#pb2)"/>
<path d="M626.6,537.3 C630.8,535.1 645.3,531.8 649.6,533.3 C653.9,534.8 652.2,541.4 652.6,546.3 C653.0,551.2 653.9,559.4 651.7,562.7 C649.5,566.0 643.4,564.3 639.4,565.9 C635.5,567.5 630.7,573.4 628.0,572.3 C625.4,571.2 624.3,563.8 623.7,559.5 C623.1,555.1 623.9,549.9 624.4,546.2 C624.9,542.5 622.4,539.4 626.6,537.3 Z" fill="#f3701f" filter="url(#pb2)"/>
<path d="M627.2,538.5 C631.1,536.6 645.2,533.3 649.2,534.6 C653.2,535.9 651.0,541.8 651.2,546.4 C651.4,550.9 652.6,558.9 650.6,561.9 C648.5,564.9 642.5,563.1 638.9,564.6 C635.2,566.1 630.8,571.9 628.5,571.0 C626.2,570.1 625.6,563.4 625.1,559.3 C624.6,555.2 625.4,549.8 625.8,546.4 C626.2,542.9 623.3,540.5 627.2,538.5 Z" fill="#ee2e24" filter="url(#pb1)"/>
<path d="M625.5,628 L630.5,626 L632,632.5 L628,636 L624.5,633 Z" fill="#f47b20" filter="url(#pb2)"/>
<path d="M697.4,496.5 C704.5,496.7 711.9,499.3 717.6,502.6 C723.3,506.0 728.2,511.2 731.7,516.7 C735.3,522.2 737.3,528.6 739.1,535.6 C740.9,542.5 741.7,551.8 742.4,558.4 C743.2,565.0 743.9,570.0 743.8,575.2 C743.7,580.3 742.5,584.9 741.8,589.2 C741.0,593.5 739.5,595.7 739.3,601.0 C739.1,606.3 741.4,614.2 740.6,620.8 C739.7,627.4 737.8,635.2 734.4,640.6 C731.0,646.1 725.4,650.6 720.0,653.6 C714.6,656.5 708.2,658.6 702.0,658.3 C695.8,658.0 687.6,655.3 682.8,652.0 C678.0,648.7 674.6,643.1 673.2,638.7 C671.7,634.2 673.7,629.4 674.3,625.2 C674.9,620.9 676.6,617.0 676.8,613.2 C677.0,609.4 676.5,606.0 675.6,602.2 C674.8,598.3 673.2,594.2 671.9,590.1 C670.7,586.1 669.2,582.4 668.0,577.9 C666.9,573.4 665.7,568.4 664.9,563.1 C664.1,557.9 663.2,553.7 663.3,546.3 C663.4,539.0 663.4,526.6 665.4,519.1 C667.3,511.7 669.5,505.5 674.9,501.7 C680.2,497.9 690.2,496.3 697.4,496.5 Z" fill="#e6ecf5" filter="url(#pb3)"/>
<path d="M697.3,498.8 C704.0,499.0 711.0,501.4 716.4,504.6 C721.9,507.8 726.4,512.7 729.8,517.9 C733.2,523.2 735.1,529.3 736.8,536.1 C738.6,542.9 739.4,552.2 740.2,558.7 C740.9,565.2 741.6,570.1 741.5,575.1 C741.4,580.1 740.3,584.5 739.5,588.8 C738.8,593.1 737.2,595.6 737.0,600.9 C736.8,606.2 739.0,614.1 738.3,620.5 C737.5,627.0 735.7,634.3 732.4,639.4 C729.2,644.6 724.0,648.8 718.9,651.6 C713.8,654.3 707.9,656.2 702.1,656.0 C696.3,655.7 688.5,653.1 684.1,650.1 C679.6,647.1 676.6,642.1 675.4,638.1 C674.1,634.0 676.0,629.7 676.6,625.5 C677.2,621.4 678.9,617.3 679.1,613.3 C679.3,609.4 678.7,605.7 677.9,601.7 C677.1,597.7 675.4,593.5 674.1,589.4 C672.9,585.4 671.4,581.8 670.3,577.3 C669.1,572.9 667.9,567.9 667.2,562.8 C666.4,557.6 665.5,553.5 665.6,546.3 C665.7,539.2 665.9,526.7 667.6,519.6 C669.4,512.5 671.2,507.1 676.2,503.6 C681.1,500.1 690.6,498.6 697.3,498.8 Z" fill="#a8cbef" filter="url(#pb2)"/>
<path d="M697.2,501.0 C703.5,501.2 710.2,503.5 715.3,506.5 C720.4,509.5 724.7,514.1 727.9,519.1 C731.2,524.1 733.0,530.0 734.7,536.7 C736.4,543.3 737.2,552.5 738.0,558.9 C738.7,565.3 739.4,570.2 739.3,575.1 C739.2,580.0 738.1,584.1 737.4,588.4 C736.6,592.7 735.0,595.5 734.8,600.8 C734.6,606.1 736.8,614.1 736.1,620.3 C735.4,626.6 733.6,633.4 730.6,638.3 C727.5,643.2 722.6,647.0 717.8,649.6 C713.1,652.2 707.6,654.0 702.2,653.8 C696.7,653.6 689.4,650.9 685.3,648.2 C681.2,645.5 678.6,641.2 677.5,637.5 C676.4,633.8 678.1,629.9 678.7,625.9 C679.4,621.9 681.1,617.5 681.3,613.4 C681.5,609.3 680.9,605.4 680.1,601.3 C679.2,597.2 677.5,592.9 676.2,588.8 C675.0,584.7 673.5,581.2 672.4,576.8 C671.2,572.4 670.1,567.5 669.3,562.5 C668.6,557.4 667.7,553.4 667.8,546.4 C667.9,539.3 668.2,526.9 669.8,520.1 C671.4,513.2 672.8,508.6 677.4,505.4 C682.0,502.2 690.9,500.8 697.2,501.0 Z" fill="#4b92dc" filter="url(#pb1)"/>
<path d="M697.1,502.8 C703.1,503.0 709.5,505.2 714.4,508.1 C719.3,510.9 723.3,515.2 726.4,520.1 C729.5,524.9 731.3,530.6 733.0,537.1 C734.6,543.6 735.4,552.8 736.2,559.2 C736.9,565.5 737.6,570.2 737.5,575.0 C737.4,579.9 736.3,583.8 735.6,588.1 C734.8,592.4 733.2,595.4 733.0,600.7 C732.8,606.1 735.0,614.0 734.3,620.1 C733.6,626.2 731.9,632.7 729.0,637.3 C726.1,642.0 721.4,645.6 717.0,648.1 C712.5,650.5 707.4,652.2 702.2,652.0 C697.1,651.8 690.1,649.2 686.3,646.7 C682.4,644.2 680.2,640.4 679.2,637.0 C678.3,633.6 679.9,630.1 680.5,626.2 C681.2,622.3 682.9,617.7 683.1,613.5 C683.3,609.3 682.7,605.2 681.8,600.9 C681.0,596.7 679.2,592.4 678.0,588.3 C676.7,584.2 675.3,580.7 674.1,576.3 C673.0,572.0 671.9,567.2 671.1,562.2 C670.4,557.2 669.5,553.3 669.6,546.4 C669.7,539.4 670.1,527.0 671.5,520.4 C673.0,513.9 674.2,509.9 678.4,506.9 C682.7,504.0 691.1,502.6 697.1,502.8 Z" fill="#2a6fc9" filter="url(#pb1)"/>
<path d="M697.2,509.1 C702.1,509.3 707.9,510.7 712.0,513.2 C716.0,515.7 718.9,519.5 721.4,524.0 C724.0,528.4 725.8,533.8 727.4,539.7 C728.9,545.5 729.8,553.2 730.6,559.1 C731.3,565.0 731.9,570.2 731.9,575.0 C731.9,579.8 731.2,583.8 730.6,588.1 C729.9,592.4 728.2,595.4 728.0,600.8 C727.8,606.1 729.8,614.7 729.3,620.1 C728.8,625.6 727.5,629.7 725.2,633.5 C723.0,637.3 719.6,640.4 715.8,642.9 C712.0,645.4 706.5,648.1 702.4,648.3 C698.3,648.5 694.2,646.1 691.3,644.2 C688.4,642.3 685.9,640.1 685.0,637.1 C684.0,634.1 685.1,630.1 685.6,626.2 C686.1,622.3 687.9,617.8 688.1,613.5 C688.3,609.3 687.7,605.2 686.8,601.0 C686.0,596.7 684.2,592.4 683.0,588.2 C681.9,584.1 681.0,580.7 679.9,576.3 C678.8,572.0 677.3,567.2 676.4,562.2 C675.5,557.2 674.6,552.7 674.6,546.4 C674.6,540.1 675.4,530.1 676.6,524.3 C677.9,518.6 678.8,514.5 682.2,512.0 C685.6,509.4 692.2,508.9 697.2,509.1 Z" fill="#2b9aa6" filter="url(#pb1)"/>
<path d="M697.1,510.4 C701.8,510.6 707.4,511.9 711.3,514.3 C715.2,516.7 717.8,520.3 720.3,524.6 C722.8,528.9 724.6,534.2 726.1,540.0 C727.6,545.8 728.5,553.5 729.3,559.3 C730.0,565.1 730.6,570.2 730.6,575.0 C730.6,579.8 729.9,583.6 729.3,587.9 C728.6,592.2 726.9,595.4 726.7,600.7 C726.5,606.1 728.4,614.6 728.0,620.0 C727.6,625.4 726.2,629.2 724.1,632.8 C722.0,636.4 718.7,639.4 715.1,641.8 C711.5,644.2 706.1,646.8 702.3,647.0 C698.4,647.2 694.7,644.8 692.0,643.1 C689.3,641.4 687.1,639.5 686.2,636.7 C685.4,633.9 686.4,630.2 686.9,626.4 C687.4,622.5 689.2,617.9 689.4,613.6 C689.6,609.3 689.0,605.0 688.1,600.7 C687.2,596.4 685.4,592.0 684.3,587.9 C683.1,583.8 682.3,580.3 681.2,576.0 C680.1,571.7 678.6,566.9 677.7,562.0 C676.8,557.1 675.9,552.6 675.9,546.4 C675.9,540.2 676.7,530.2 677.9,524.6 C679.1,519.0 679.8,515.4 683.0,513.0 C686.2,510.6 692.4,510.2 697.1,510.4 Z" fill="#3cb43c" filter="url(#pb1)"/>
<path d="M689.7,517.6 C694.0,516.4 702.2,516.5 706.0,518.8 C709.9,521.1 710.2,527.1 712.7,531.5 C715.1,535.9 719.3,540.4 720.7,545.1 C722.1,549.8 721.5,554.7 720.9,559.9 C720.2,565.1 718.6,571.4 716.8,576.2 C715.1,581.0 713.9,585.6 710.2,588.5 C706.5,591.4 698.6,593.9 694.6,593.6 C690.6,593.3 688.3,590.1 686.5,586.6 C684.7,583.1 684.6,578.4 683.7,572.8 C682.8,567.2 681.1,558.7 681.1,552.8 C681.1,546.9 683.8,542.0 683.6,537.6 C683.4,533.2 678.9,529.7 679.9,526.4 C680.9,523.0 685.3,518.9 689.7,517.6 Z" fill="#62c03c" filter="url(#pb3)"/>
<path d="M690.2,520.1 C694.0,519.1 701.3,518.8 704.7,520.9 C708.1,523.0 708.2,528.5 710.5,532.7 C712.7,536.8 717.0,541.3 718.3,545.8 C719.6,550.3 719.0,554.6 718.4,559.6 C717.7,564.5 716.1,570.9 714.5,575.4 C712.9,579.9 712.0,583.9 708.6,586.6 C705.3,589.2 697.9,591.2 694.6,591.1 C691.3,591.0 690.2,588.8 688.8,585.7 C687.4,582.6 687.0,577.9 686.1,572.4 C685.3,566.9 683.6,558.6 683.6,552.8 C683.6,547.0 686.3,541.8 686.1,537.5 C685.9,533.2 681.6,529.7 682.3,526.8 C683.0,523.9 686.5,521.0 690.2,520.1 Z" fill="#a3d238" filter="url(#pb2)"/>
<path d="M700.9,592.6 C703.7,592.2 708.6,599.7 710.4,603.4 C712.2,607.1 710.6,611.1 711.7,614.8 C712.8,618.5 716.7,622.0 717.1,625.8 C717.4,629.6 716.1,634.5 713.7,637.9 C711.3,641.3 706.3,646.0 702.7,646.3 C699.1,646.5 694.6,642.2 692.3,639.5 C689.9,636.7 688.6,633.7 688.8,629.8 C689.0,626.0 692.5,620.4 693.4,616.4 C694.3,612.5 692.8,610.1 694.0,606.1 C695.3,602.2 698.2,593.1 700.9,592.6 Z" fill="#62c03c" filter="url(#pb3)"/>
<path d="M701.7,595.0 C703.6,594.6 706.8,600.7 708.0,604.1 C709.3,607.5 708.2,611.9 709.3,615.5 C710.4,619.2 714.2,622.6 714.6,626.1 C715.0,629.6 713.7,633.6 711.7,636.5 C709.6,639.5 705.4,643.6 702.5,643.8 C699.6,644.0 696.1,640.2 694.2,637.9 C692.4,635.6 691.0,633.6 691.3,630.1 C691.6,626.6 695.0,620.9 695.8,617.0 C696.7,613.1 695.5,610.3 696.4,606.7 C697.4,603.0 699.8,595.4 701.7,595.0 Z" fill="#a3d238" filter="url(#pb2)"/>
<path d="M690.6,521.5 C693.9,520.7 700.8,520.2 703.9,522.2 C707.0,524.2 707.0,529.4 709.1,533.4 C711.3,537.4 715.6,541.9 716.9,546.3 C718.2,550.6 717.5,554.6 716.9,559.4 C716.3,564.1 714.6,570.5 713.1,574.9 C711.5,579.2 710.8,582.9 707.7,585.4 C704.6,587.8 697.5,589.6 694.6,589.6 C691.7,589.6 691.4,588.1 690.2,585.2 C689.1,582.3 688.5,577.6 687.6,572.2 C686.8,566.8 685.1,558.6 685.1,552.8 C685.1,547.0 687.8,541.7 687.6,537.4 C687.4,533.1 683.3,529.7 683.8,527.0 C684.3,524.4 687.2,522.3 690.6,521.5 Z" fill="#f6ec36" filter="url(#pb1)"/>
<path d="M702.1,596.4 C703.6,596.0 705.6,601.2 706.6,604.5 C707.5,607.7 706.8,612.3 707.9,616.0 C709.0,619.6 712.7,623.0 713.1,626.3 C713.5,629.6 712.2,633.0 710.4,635.7 C708.6,638.3 704.8,642.1 702.3,642.3 C699.8,642.5 697.0,639.0 695.4,637.0 C693.8,635.0 692.5,633.5 692.8,630.2 C693.1,627.0 696.5,621.2 697.3,617.3 C698.2,613.4 697.1,610.5 697.9,607.0 C698.7,603.5 700.7,596.8 702.1,596.4 Z" fill="#f6ec36" filter="url(#pb1)"/>
<path d="M687.0,526.0 C688.6,524.1 698.6,522.6 702.0,524.5 C705.4,526.4 705.6,533.3 707.4,537.4 C709.2,541.5 712.2,544.9 712.6,549.0 C713.0,553.1 711.9,558.8 710.0,561.8 C708.1,564.8 704.2,567.0 701.0,567.0 C697.8,567.0 692.6,565.2 690.7,561.8 C688.8,558.4 689.1,550.7 689.4,546.4 C689.7,542.1 693.0,539.5 692.6,536.1 C692.2,532.7 685.4,527.9 687.0,526.0 Z" fill="#f9a423" filter="url(#pb2)"/>
<path d="M702.3,602.0 C702.8,602.0 703.2,610.0 704.0,614.0 C704.8,618.0 706.5,622.8 706.8,626.0 C707.0,629.2 706.2,631.3 705.5,633.0 C704.8,634.7 703.4,636.2 702.3,636.0 C701.1,635.8 699.2,634.0 698.6,632.0 C698.0,630.0 698.1,627.0 698.5,624.0 C698.9,621.0 700.2,617.7 700.8,614.0 C701.4,610.3 701.8,602.0 702.3,602.0 Z" fill="#f9a423" filter="url(#pb2)"/>
<path d="M689.2,546.0 C690.5,541.7 696.0,535.4 698.7,535.8 C701.4,536.3 704.4,544.6 705.2,548.7 C706.0,552.8 705.8,558.3 703.4,560.4 C701.0,562.6 693.2,564.1 690.8,561.7 C688.4,559.3 687.8,550.3 689.2,546.0 Z" fill="#f3701f" filter="url(#pb2)"/>
<path d="M690.5,546.3 C691.6,542.4 696.2,536.8 698.4,537.2 C700.7,537.6 703.1,545.3 703.8,549.0 C704.5,552.7 704.4,557.5 702.4,559.4 C700.5,561.4 693.8,562.9 691.9,560.7 C689.9,558.6 689.4,550.3 690.5,546.3 Z" fill="#ee2e24" filter="url(#pb1)"/>
</g></g>
<path d="M379.8,638 L382.5,548 C383,530 395,512 412,503 C430,494.5 450,491.4 470.3,491.4 C492,491.4 512,495 528,503.5 C545,512.5 553.5,530 554,548 L555.6,638 C530,651 500,657.7 470.3,657.7 C438,657.7 408,651 379.8,638 Z" fill="none" stroke="#1a1a1a" stroke-width="1.1"/>
</g>
</g>
</svg>

<div class="t h" style="left:-1.5px;top:32.7px;">〈ランバーサポート〉</div>
<div class="t h" style="left:531.5px;top:33px;">〈ポスチャーサポートシート〉</div>
<div class="t h" style="left:-1.5px;top:423.7px;font-size:26px;">〈オープンポジションスリット〉</div>
<div class="t s" style="left:30px;top:100.5px;font-weight:400;"><span style="letter-spacing:1px">“I”</span>字形状</div>
<div class="t s" style="left:29.5px;top:121.5px;font-weight:400;">の場合</div>
<div class="t s" style="left:289px;top:100.5px;font-weight:400;"><span style="letter-spacing:1px">“S”</span>字形状</div>
<div class="t s" style="left:288.5px;top:121.5px;font-weight:400;">の場合</div>
<div class="t s" style="left:629px;top:91px;">クッション層</div>
<div class="t s" style="left:630px;top:337.5px;">ベース層</div>
<div class="t s" style="left:382.5px;top:458.6px;font-size:19px;font-weight:400;">前傾姿勢時の体圧分布</div>
<div class="t s" style="left:424.5px;top:667.6px;">スリットあり</div>
<div class="t s" style="left:624px;top:667.6px;">スリットなし</div>
</body>
</html>
